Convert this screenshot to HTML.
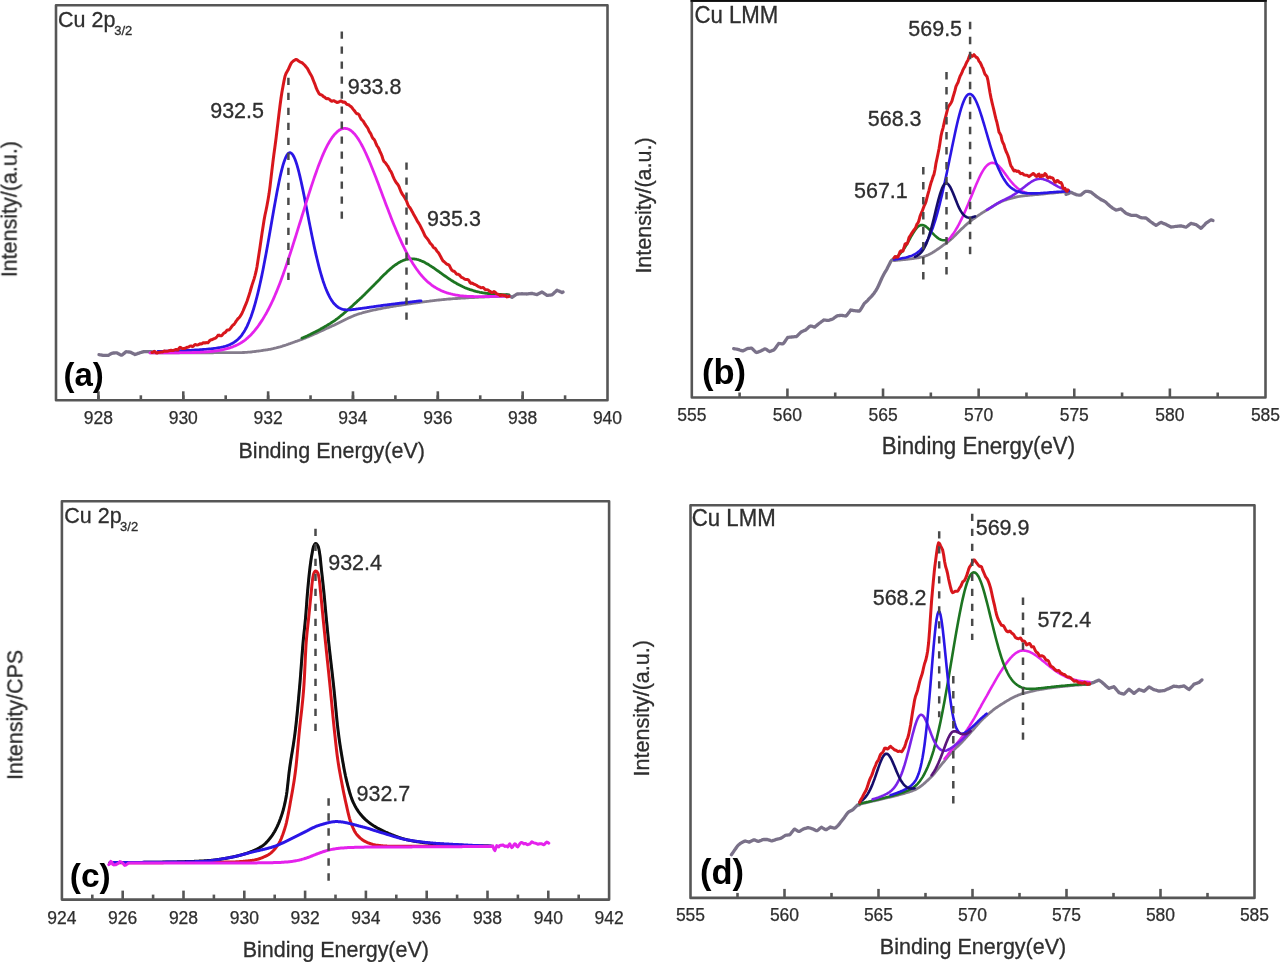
<!DOCTYPE html>
<html><head><meta charset="utf-8"><style>
html,body{margin:0;padding:0;background:#fff;}
svg{display:block;font-family:"Liberation Sans", sans-serif;}
</style></head><body>
<svg width="1280" height="962" viewBox="0 0 1280 962">
<defs><filter id="bl" x="0" y="0" width="100%" height="100%"><feGaussianBlur stdDeviation="0.6"/></filter></defs>
<rect width="1280" height="962" fill="#fff"/>
<g filter="url(#bl)">
<rect x="56" y="5.3" width="551.50" height="395.00" fill="none" stroke="#575757" stroke-width="2.6" stroke-linejoin="round"/>
<line x1="98.42" y1="400.3" x2="98.42" y2="391.30" stroke="#575757" stroke-width="2.6"/>
<line x1="183.27" y1="400.3" x2="183.27" y2="391.30" stroke="#575757" stroke-width="2.6"/>
<line x1="268.12" y1="400.3" x2="268.12" y2="391.30" stroke="#575757" stroke-width="2.6"/>
<line x1="352.96" y1="400.3" x2="352.96" y2="391.30" stroke="#575757" stroke-width="2.6"/>
<line x1="437.81" y1="400.3" x2="437.81" y2="391.30" stroke="#575757" stroke-width="2.6"/>
<line x1="522.65" y1="400.3" x2="522.65" y2="391.30" stroke="#575757" stroke-width="2.6"/>
<line x1="98.42" y1="400.3" x2="98.42" y2="395.30" stroke="#575757" stroke-width="2.6"/>
<line x1="140.85" y1="400.3" x2="140.85" y2="395.30" stroke="#575757" stroke-width="2.6"/>
<line x1="183.27" y1="400.3" x2="183.27" y2="395.30" stroke="#575757" stroke-width="2.6"/>
<line x1="225.69" y1="400.3" x2="225.69" y2="395.30" stroke="#575757" stroke-width="2.6"/>
<line x1="268.12" y1="400.3" x2="268.12" y2="395.30" stroke="#575757" stroke-width="2.6"/>
<line x1="310.54" y1="400.3" x2="310.54" y2="395.30" stroke="#575757" stroke-width="2.6"/>
<line x1="352.96" y1="400.3" x2="352.96" y2="395.30" stroke="#575757" stroke-width="2.6"/>
<line x1="395.38" y1="400.3" x2="395.38" y2="395.30" stroke="#575757" stroke-width="2.6"/>
<line x1="437.81" y1="400.3" x2="437.81" y2="395.30" stroke="#575757" stroke-width="2.6"/>
<line x1="480.23" y1="400.3" x2="480.23" y2="395.30" stroke="#575757" stroke-width="2.6"/>
<line x1="522.65" y1="400.3" x2="522.65" y2="395.30" stroke="#575757" stroke-width="2.6"/>
<line x1="565.08" y1="400.3" x2="565.08" y2="395.30" stroke="#575757" stroke-width="2.6"/>
<text x="98.42" y="424" font-size="17.5" stroke="#2e2e2e" stroke-width="0.25" text-anchor="middle" fill="#2e2e2e">928</text>
<text x="183.27" y="424" font-size="17.5" stroke="#2e2e2e" stroke-width="0.25" text-anchor="middle" fill="#2e2e2e">930</text>
<text x="268.12" y="424" font-size="17.5" stroke="#2e2e2e" stroke-width="0.25" text-anchor="middle" fill="#2e2e2e">932</text>
<text x="352.96" y="424" font-size="17.5" stroke="#2e2e2e" stroke-width="0.25" text-anchor="middle" fill="#2e2e2e">934</text>
<text x="437.81" y="424" font-size="17.5" stroke="#2e2e2e" stroke-width="0.25" text-anchor="middle" fill="#2e2e2e">936</text>
<text x="522.65" y="424" font-size="17.5" stroke="#2e2e2e" stroke-width="0.25" text-anchor="middle" fill="#2e2e2e">938</text>
<text x="607.50" y="424" font-size="17.5" stroke="#2e2e2e" stroke-width="0.25" text-anchor="middle" fill="#2e2e2e">940</text>
<rect x="691.8" y="0.8" width="573.70" height="396.70" fill="none" stroke="#575757" stroke-width="2.6" stroke-linejoin="round"/>
<line x1="787.42" y1="397.5" x2="787.42" y2="388.50" stroke="#575757" stroke-width="2.6"/>
<line x1="883.03" y1="397.5" x2="883.03" y2="388.50" stroke="#575757" stroke-width="2.6"/>
<line x1="978.65" y1="397.5" x2="978.65" y2="388.50" stroke="#575757" stroke-width="2.6"/>
<line x1="1074.27" y1="397.5" x2="1074.27" y2="388.50" stroke="#575757" stroke-width="2.6"/>
<line x1="1169.88" y1="397.5" x2="1169.88" y2="388.50" stroke="#575757" stroke-width="2.6"/>
<line x1="739.61" y1="397.5" x2="739.61" y2="392.50" stroke="#575757" stroke-width="2.6"/>
<line x1="835.22" y1="397.5" x2="835.22" y2="392.50" stroke="#575757" stroke-width="2.6"/>
<line x1="930.84" y1="397.5" x2="930.84" y2="392.50" stroke="#575757" stroke-width="2.6"/>
<line x1="1026.46" y1="397.5" x2="1026.46" y2="392.50" stroke="#575757" stroke-width="2.6"/>
<line x1="1122.08" y1="397.5" x2="1122.08" y2="392.50" stroke="#575757" stroke-width="2.6"/>
<line x1="1217.69" y1="397.5" x2="1217.69" y2="392.50" stroke="#575757" stroke-width="2.6"/>
<text x="691.80" y="421" font-size="17.5" stroke="#2e2e2e" stroke-width="0.25" text-anchor="middle" fill="#2e2e2e">555</text>
<text x="787.42" y="421" font-size="17.5" stroke="#2e2e2e" stroke-width="0.25" text-anchor="middle" fill="#2e2e2e">560</text>
<text x="883.03" y="421" font-size="17.5" stroke="#2e2e2e" stroke-width="0.25" text-anchor="middle" fill="#2e2e2e">565</text>
<text x="978.65" y="421" font-size="17.5" stroke="#2e2e2e" stroke-width="0.25" text-anchor="middle" fill="#2e2e2e">570</text>
<text x="1074.27" y="421" font-size="17.5" stroke="#2e2e2e" stroke-width="0.25" text-anchor="middle" fill="#2e2e2e">575</text>
<text x="1169.88" y="421" font-size="17.5" stroke="#2e2e2e" stroke-width="0.25" text-anchor="middle" fill="#2e2e2e">580</text>
<text x="1265.50" y="421" font-size="17.5" stroke="#2e2e2e" stroke-width="0.25" text-anchor="middle" fill="#2e2e2e">585</text>
<rect x="61.9" y="501.2" width="547.20" height="398.40" fill="none" stroke="#575757" stroke-width="2.6" stroke-linejoin="round"/>
<line x1="122.70" y1="899.6" x2="122.70" y2="890.60" stroke="#575757" stroke-width="2.6"/>
<line x1="183.50" y1="899.6" x2="183.50" y2="890.60" stroke="#575757" stroke-width="2.6"/>
<line x1="244.30" y1="899.6" x2="244.30" y2="890.60" stroke="#575757" stroke-width="2.6"/>
<line x1="305.10" y1="899.6" x2="305.10" y2="890.60" stroke="#575757" stroke-width="2.6"/>
<line x1="365.90" y1="899.6" x2="365.90" y2="890.60" stroke="#575757" stroke-width="2.6"/>
<line x1="426.70" y1="899.6" x2="426.70" y2="890.60" stroke="#575757" stroke-width="2.6"/>
<line x1="487.50" y1="899.6" x2="487.50" y2="890.60" stroke="#575757" stroke-width="2.6"/>
<line x1="548.30" y1="899.6" x2="548.30" y2="890.60" stroke="#575757" stroke-width="2.6"/>
<line x1="92.30" y1="899.6" x2="92.30" y2="894.60" stroke="#575757" stroke-width="2.6"/>
<line x1="153.10" y1="899.6" x2="153.10" y2="894.60" stroke="#575757" stroke-width="2.6"/>
<line x1="213.90" y1="899.6" x2="213.90" y2="894.60" stroke="#575757" stroke-width="2.6"/>
<line x1="274.70" y1="899.6" x2="274.70" y2="894.60" stroke="#575757" stroke-width="2.6"/>
<line x1="335.50" y1="899.6" x2="335.50" y2="894.60" stroke="#575757" stroke-width="2.6"/>
<line x1="396.30" y1="899.6" x2="396.30" y2="894.60" stroke="#575757" stroke-width="2.6"/>
<line x1="457.10" y1="899.6" x2="457.10" y2="894.60" stroke="#575757" stroke-width="2.6"/>
<line x1="517.90" y1="899.6" x2="517.90" y2="894.60" stroke="#575757" stroke-width="2.6"/>
<line x1="578.70" y1="899.6" x2="578.70" y2="894.60" stroke="#575757" stroke-width="2.6"/>
<text x="61.90" y="923.5" font-size="17.5" stroke="#2e2e2e" stroke-width="0.25" text-anchor="middle" fill="#2e2e2e">924</text>
<text x="122.70" y="923.5" font-size="17.5" stroke="#2e2e2e" stroke-width="0.25" text-anchor="middle" fill="#2e2e2e">926</text>
<text x="183.50" y="923.5" font-size="17.5" stroke="#2e2e2e" stroke-width="0.25" text-anchor="middle" fill="#2e2e2e">928</text>
<text x="244.30" y="923.5" font-size="17.5" stroke="#2e2e2e" stroke-width="0.25" text-anchor="middle" fill="#2e2e2e">930</text>
<text x="305.10" y="923.5" font-size="17.5" stroke="#2e2e2e" stroke-width="0.25" text-anchor="middle" fill="#2e2e2e">932</text>
<text x="365.90" y="923.5" font-size="17.5" stroke="#2e2e2e" stroke-width="0.25" text-anchor="middle" fill="#2e2e2e">934</text>
<text x="426.70" y="923.5" font-size="17.5" stroke="#2e2e2e" stroke-width="0.25" text-anchor="middle" fill="#2e2e2e">936</text>
<text x="487.50" y="923.5" font-size="17.5" stroke="#2e2e2e" stroke-width="0.25" text-anchor="middle" fill="#2e2e2e">938</text>
<text x="548.30" y="923.5" font-size="17.5" stroke="#2e2e2e" stroke-width="0.25" text-anchor="middle" fill="#2e2e2e">940</text>
<text x="609.10" y="923.5" font-size="17.5" stroke="#2e2e2e" stroke-width="0.25" text-anchor="middle" fill="#2e2e2e">942</text>
<rect x="690.5" y="505.3" width="564.00" height="392.60" fill="none" stroke="#575757" stroke-width="2.6" stroke-linejoin="round"/>
<line x1="784.50" y1="897.9" x2="784.50" y2="888.90" stroke="#575757" stroke-width="2.6"/>
<line x1="878.50" y1="897.9" x2="878.50" y2="888.90" stroke="#575757" stroke-width="2.6"/>
<line x1="972.50" y1="897.9" x2="972.50" y2="888.90" stroke="#575757" stroke-width="2.6"/>
<line x1="1066.50" y1="897.9" x2="1066.50" y2="888.90" stroke="#575757" stroke-width="2.6"/>
<line x1="1160.50" y1="897.9" x2="1160.50" y2="888.90" stroke="#575757" stroke-width="2.6"/>
<line x1="737.50" y1="897.9" x2="737.50" y2="892.90" stroke="#575757" stroke-width="2.6"/>
<line x1="831.50" y1="897.9" x2="831.50" y2="892.90" stroke="#575757" stroke-width="2.6"/>
<line x1="925.50" y1="897.9" x2="925.50" y2="892.90" stroke="#575757" stroke-width="2.6"/>
<line x1="1019.50" y1="897.9" x2="1019.50" y2="892.90" stroke="#575757" stroke-width="2.6"/>
<line x1="1113.50" y1="897.9" x2="1113.50" y2="892.90" stroke="#575757" stroke-width="2.6"/>
<line x1="1207.50" y1="897.9" x2="1207.50" y2="892.90" stroke="#575757" stroke-width="2.6"/>
<text x="690.50" y="921" font-size="17.5" stroke="#2e2e2e" stroke-width="0.25" text-anchor="middle" fill="#2e2e2e">555</text>
<text x="784.50" y="921" font-size="17.5" stroke="#2e2e2e" stroke-width="0.25" text-anchor="middle" fill="#2e2e2e">560</text>
<text x="878.50" y="921" font-size="17.5" stroke="#2e2e2e" stroke-width="0.25" text-anchor="middle" fill="#2e2e2e">565</text>
<text x="972.50" y="921" font-size="17.5" stroke="#2e2e2e" stroke-width="0.25" text-anchor="middle" fill="#2e2e2e">570</text>
<text x="1066.50" y="921" font-size="17.5" stroke="#2e2e2e" stroke-width="0.25" text-anchor="middle" fill="#2e2e2e">575</text>
<text x="1160.50" y="921" font-size="17.5" stroke="#2e2e2e" stroke-width="0.25" text-anchor="middle" fill="#2e2e2e">580</text>
<text x="1254.50" y="921" font-size="17.5" stroke="#2e2e2e" stroke-width="0.25" text-anchor="middle" fill="#2e2e2e">585</text>
<line x1="690.5" y1="0.8" x2="1266.8" y2="0.8" stroke="#0c0c0c" stroke-width="2.0"/>
<text x="0" y="0" font-size="21.5" text-anchor="start" fill="#2e2e2e" stroke="#2e2e2e" stroke-width="0.3" font-weight="normal" transform="translate(58.0,27.2) scale(1,1.05)" >Cu 2p</text>
<text x="0" y="0" font-size="13" text-anchor="start" fill="#2e2e2e" stroke="#2e2e2e" stroke-width="0.3" font-weight="normal" transform="translate(114.2,34.6) scale(1,1.05)" >3/2</text>
<text x="0" y="0" font-size="22.2" text-anchor="start" fill="#2e2e2e" stroke="#2e2e2e" stroke-width="0.3" font-weight="normal" transform="translate(694.5,23.0) scale(1,1.05)" >Cu LMM</text>
<text x="0" y="0" font-size="21.5" text-anchor="start" fill="#2e2e2e" stroke="#2e2e2e" stroke-width="0.3" font-weight="normal" transform="translate(64.3,523.1) scale(1,1.05)" >Cu 2p</text>
<text x="0" y="0" font-size="13" text-anchor="start" fill="#2e2e2e" stroke="#2e2e2e" stroke-width="0.3" font-weight="normal" transform="translate(120.1,531.0) scale(1,1.05)" >3/2</text>
<text x="0" y="0" font-size="22.2" text-anchor="start" fill="#2e2e2e" stroke="#2e2e2e" stroke-width="0.3" font-weight="normal" transform="translate(691.8,525.9) scale(1,1.05)" >Cu LMM</text>
<text x="0" y="0" font-size="21.5" text-anchor="middle" fill="#2e2e2e" stroke="#2e2e2e" stroke-width="0.3" font-weight="normal" transform="translate(331.7,457.5) scale(1,1.05)" >Binding Energy(eV)</text>
<text x="0" y="0" font-size="22.3" text-anchor="middle" fill="#2e2e2e" stroke="#2e2e2e" stroke-width="0.3" font-weight="normal" transform="translate(978.5,454.4) scale(1,1.05)" >Binding Energy(eV)</text>
<text x="0" y="0" font-size="21.5" text-anchor="middle" fill="#2e2e2e" stroke="#2e2e2e" stroke-width="0.3" font-weight="normal" transform="translate(335.8,957.2) scale(1,1.05)" >Binding Energy(eV)</text>
<text x="0" y="0" font-size="21.5" text-anchor="middle" fill="#2e2e2e" stroke="#2e2e2e" stroke-width="0.3" font-weight="normal" transform="translate(973.0,954.4) scale(1,1.05)" >Binding Energy(eV)</text>
<text x="0" y="0" font-size="21.5" text-anchor="middle" fill="#2e2e2e" stroke="#2e2e2e" stroke-width="0.3" transform="translate(16.6,209.2) rotate(-90)">Intensity/(a.u.)</text>
<text x="0" y="0" font-size="21.5" text-anchor="middle" fill="#2e2e2e" stroke="#2e2e2e" stroke-width="0.3" transform="translate(651.2,205.5) rotate(-90)">Intensity/(a.u.)</text>
<text x="0" y="0" font-size="21.5" text-anchor="middle" fill="#2e2e2e" stroke="#2e2e2e" stroke-width="0.3" transform="translate(22.4,714.9) rotate(-90)">Intensity/CPS</text>
<text x="0" y="0" font-size="21.5" text-anchor="middle" fill="#2e2e2e" stroke="#2e2e2e" stroke-width="0.3" transform="translate(649.0,708.3) rotate(-90)">Intensity/(a.u.)</text>
<text x="0" y="0" font-size="33" font-weight="bold" fill="#000" transform="translate(63.5,386.2) ">(a)</text>
<text x="0" y="0" font-size="34.5" font-weight="bold" fill="#000" transform="translate(702.0,383.6) ">(b)</text>
<text x="0" y="0" font-size="33.5" font-weight="bold" fill="#000" transform="translate(69.8,886.5) ">(c)</text>
<text x="0" y="0" font-size="34.5" font-weight="bold" fill="#000" transform="translate(700.0,883.6) ">(d)</text>
<text x="0" y="0" font-size="21.5" text-anchor="start" fill="#2e2e2e" stroke="#2e2e2e" stroke-width="0.3" font-weight="normal" transform="translate(210.2,118.4) scale(1,1.05)" >932.5</text>
<text x="0" y="0" font-size="21.5" text-anchor="start" fill="#2e2e2e" stroke="#2e2e2e" stroke-width="0.3" font-weight="normal" transform="translate(347.7,93.5) scale(1,1.05)" >933.8</text>
<text x="0" y="0" font-size="21.5" text-anchor="start" fill="#2e2e2e" stroke="#2e2e2e" stroke-width="0.3" font-weight="normal" transform="translate(427.1,226) scale(1,1.05)" >935.3</text>
<text x="0" y="0" font-size="21.5" text-anchor="start" fill="#2e2e2e" stroke="#2e2e2e" stroke-width="0.3" font-weight="normal" transform="translate(908.3,35.8) scale(1,1.05)" >569.5</text>
<text x="0" y="0" font-size="21.5" text-anchor="start" fill="#2e2e2e" stroke="#2e2e2e" stroke-width="0.3" font-weight="normal" transform="translate(867.75,126.25) scale(1,1.05)" >568.3</text>
<text x="0" y="0" font-size="21.5" text-anchor="start" fill="#2e2e2e" stroke="#2e2e2e" stroke-width="0.3" font-weight="normal" transform="translate(854.0,197.5) scale(1,1.05)" >567.1</text>
<text x="0" y="0" font-size="21.5" text-anchor="start" fill="#2e2e2e" stroke="#2e2e2e" stroke-width="0.3" font-weight="normal" transform="translate(328.2,569.9) scale(1,1.05)" >932.4</text>
<text x="0" y="0" font-size="21.5" text-anchor="start" fill="#2e2e2e" stroke="#2e2e2e" stroke-width="0.3" font-weight="normal" transform="translate(356.5,800.5) scale(1,1.05)" >932.7</text>
<text x="0" y="0" font-size="21.5" text-anchor="start" fill="#2e2e2e" stroke="#2e2e2e" stroke-width="0.3" font-weight="normal" transform="translate(975.7,535) scale(1,1.05)" >569.9</text>
<text x="0" y="0" font-size="21.5" text-anchor="start" fill="#2e2e2e" stroke="#2e2e2e" stroke-width="0.3" font-weight="normal" transform="translate(872.7,604.8) scale(1,1.05)" >568.2</text>
<text x="0" y="0" font-size="21.5" text-anchor="start" fill="#2e2e2e" stroke="#2e2e2e" stroke-width="0.3" font-weight="normal" transform="translate(1037.4,627.2) scale(1,1.05)" >572.4</text>
<path d="M99.0 354.7L100.0 354.8L101.0 355.0L102.0 355.1L103.0 355.3L104.0 355.4L105.0 355.4L106.0 355.4L107.0 355.4L108.0 355.4L109.0 354.9L110.0 354.3L111.0 353.8L112.0 353.3L113.0 353.0L114.0 353.0L115.0 352.9L116.0 352.9L117.0 352.9L118.0 353.5L119.0 354.0L120.0 354.6L121.0 355.2L122.0 355.1L123.0 354.2L124.0 353.4L125.0 352.6L126.0 351.7L127.0 351.8L128.0 351.9L129.0 352.0L130.0 352.1L131.0 352.4L132.0 352.9L133.0 353.4L134.0 353.9L135.0 354.5L136.0 354.1L137.0 353.8L138.0 353.4L139.0 353.1L140.0 352.7L141.0 352.5L142.0 352.2L143.0 351.9L144.0 351.6L145.0 351.7L146.0 351.7L147.0 351.7L148.0 351.7L149.0 351.7L150.0 351.7L151.0 351.7L152.0 351.8L153.0 351.8L154.0 351.5" fill="none" stroke="#7a7189" stroke-width="3.3" stroke-linejoin="round" stroke-linecap="round" opacity="1"/>
<path d="M507.0 294.8L508.0 295.3L509.0 295.8L510.0 296.3L511.0 296.8L512.0 297.3L513.0 296.6L514.0 296.0L515.0 295.3L516.0 294.7L517.0 294.0L518.0 294.0L519.0 293.9L520.0 293.8L521.0 293.8L522.0 293.7L523.0 293.8L524.0 293.8L525.0 293.9L526.0 293.9L527.0 294.0L528.0 293.8L529.0 293.7L530.0 293.6L531.0 293.5L532.0 293.4L533.0 293.7L534.0 293.9L535.0 294.2L536.0 294.4L537.0 294.7L538.0 294.1L539.0 293.6L540.0 293.1L541.0 292.5L542.0 292.0L543.0 292.7L544.0 293.4L545.0 294.0L546.0 294.7L547.0 295.4L548.0 295.3L549.0 295.2L550.0 295.1L551.0 295.0L552.0 294.8L553.0 293.9L554.0 293.0L555.0 292.1L556.0 291.2L557.0 290.2L558.0 290.7L559.0 291.1L560.0 291.6L561.0 292.0L562.0 292.5L563.0 292.0" fill="none" stroke="#7a7189" stroke-width="3.3" stroke-linejoin="round" stroke-linecap="round" opacity="1"/>
<path d="M150.0 352.9L151.0 352.9L152.0 352.9L153.0 352.9L154.0 352.9L155.0 352.9L156.0 352.9L157.0 352.9L158.0 352.9L159.0 352.9L160.0 352.9L161.0 352.9L162.0 352.9L163.0 352.9L164.0 352.9L165.0 352.9L166.0 352.9L167.0 352.9L168.0 352.9L169.0 352.9L170.0 352.9L171.0 352.9L172.0 352.8L173.0 352.8L174.0 352.8L175.0 352.8L176.0 352.8L177.0 352.8L178.0 352.8L179.0 352.8L180.0 352.8L181.0 352.8L182.0 352.8L183.0 352.8L184.0 352.8L185.0 352.8L186.0 352.8L187.0 352.8L188.0 352.8L189.0 352.8L190.0 352.8L191.0 352.8L192.0 352.8L193.0 352.8L194.0 352.8L195.0 352.8L196.0 352.8L197.0 352.8L198.0 352.8L199.0 352.8L200.0 352.8L201.0 352.8L202.0 352.8L203.0 352.8L204.0 352.8L205.0 352.8L206.0 352.8L207.0 352.8L208.0 352.8L209.0 352.8L210.0 352.8L211.0 352.8L212.0 352.8L213.0 352.8L214.0 352.7L215.0 352.7L216.0 352.7L217.0 352.7L218.0 352.7L219.0 352.7L220.0 352.7L221.0 352.7L222.0 352.7L223.0 352.7L224.0 352.7L225.0 352.7L226.0 352.7L227.0 352.7L228.0 352.7L229.0 352.7L230.0 352.7L231.0 352.7L232.0 352.7L233.0 352.7L234.0 352.6L235.0 352.6L236.0 352.6L237.0 352.6L238.0 352.6L239.0 352.6L240.0 352.6L241.0 352.6L242.0 352.6L243.0 352.5L244.0 352.5L245.0 352.4L246.0 352.4L247.0 352.3L248.0 352.2L249.0 352.1L250.0 352.1L251.0 352.0L252.0 351.9L253.0 351.7L254.0 351.6L255.0 351.5L256.0 351.4L257.0 351.2L258.0 351.1L259.0 351.0L260.0 350.8L261.0 350.7L262.0 350.5L263.0 350.4L264.0 350.2L265.0 350.1L266.0 349.9L267.0 349.8L268.0 349.6L269.0 349.4L270.0 349.3L271.0 349.1L272.0 348.9L273.0 348.7L274.0 348.4L275.0 348.2L276.0 348.0L277.0 347.7L278.0 347.4L279.0 347.1L280.0 346.9L281.0 346.6L282.0 346.3L283.0 345.9L284.0 345.6L285.0 345.3L286.0 345.0L287.0 344.6L288.0 344.3L289.0 343.9L290.0 343.6L291.0 343.2L292.0 342.9L293.0 342.5L294.0 342.2L295.0 341.8L296.0 341.4L297.0 341.1L298.0 340.7L299.0 340.4L300.0 340.0L301.0 339.6L302.0 339.3L303.0 338.9L304.0 338.5L305.0 338.1L306.0 337.7L307.0 337.3L308.0 336.9L309.0 336.4L310.0 336.0L311.0 335.6L312.0 335.1L313.0 334.7L314.0 334.3L315.0 333.8L316.0 333.4L317.0 332.9L318.0 332.4L319.0 332.0L320.0 331.5L321.0 331.1L322.0 330.6L323.0 330.2L324.0 329.7L325.0 329.2L326.0 328.8L327.0 328.3L328.0 327.9L329.0 327.4L330.0 327.0L331.0 326.6L332.0 326.1L333.0 325.6L334.0 325.2L335.0 324.7L336.0 324.2L337.0 323.7L338.0 323.2L339.0 322.7L340.0 322.2L341.0 321.7L342.0 321.2L343.0 320.7L344.0 320.2L345.0 319.7L346.0 319.2L347.0 318.8L348.0 318.3L349.0 317.8L350.0 317.4L351.0 316.9L352.0 316.5L353.0 316.1L354.0 315.6L355.0 315.2L356.0 314.9L357.0 314.5L358.0 314.2L359.0 313.8L360.0 313.5L361.0 313.3L362.0 313.0L363.0 312.7L364.0 312.4L365.0 312.2L366.0 311.9L367.0 311.7L368.0 311.4L369.0 311.2L370.0 310.9L371.0 310.7L372.0 310.5L373.0 310.2L374.0 310.0L375.0 309.8L376.0 309.6L377.0 309.4L378.0 309.2L379.0 309.0L380.0 308.8L381.0 308.6L382.0 308.4L383.0 308.2L384.0 308.0L385.0 307.8L386.0 307.6L387.0 307.4L388.0 307.3L389.0 307.1L390.0 306.9L391.0 306.7L392.0 306.6L393.0 306.4L394.0 306.2L395.0 306.1L396.0 305.9L397.0 305.7L398.0 305.6L399.0 305.4L400.0 305.3L401.0 305.1L402.0 305.0L403.0 304.8L404.0 304.7L405.0 304.5L406.0 304.4L407.0 304.2L408.0 304.1L409.0 303.9L410.0 303.8L411.0 303.6L412.0 303.5L413.0 303.3L414.0 303.2L415.0 303.1L416.0 302.9L417.0 302.8L418.0 302.6L419.0 302.5L420.0 302.4L421.0 302.2L422.0 302.1L423.0 301.9L424.0 301.8L425.0 301.7L426.0 301.6L427.0 301.4L428.0 301.3L429.0 301.2L430.0 301.0L431.0 300.9L432.0 300.8L433.0 300.7L434.0 300.6L435.0 300.4L436.0 300.3L437.0 300.2L438.0 300.1L439.0 300.0L440.0 299.9L441.0 299.8L442.0 299.7L443.0 299.6L444.0 299.5L445.0 299.4L446.0 299.3L447.0 299.2L448.0 299.1L449.0 299.0L450.0 299.0L451.0 298.9L452.0 298.8L453.0 298.7L454.0 298.7L455.0 298.6L456.0 298.5L457.0 298.5L458.0 298.4L459.0 298.3L460.0 298.3L461.0 298.2L462.0 298.2L463.0 298.1L464.0 298.0L465.0 298.0L466.0 297.9L467.0 297.9L468.0 297.8L469.0 297.7L470.0 297.7L471.0 297.6L472.0 297.6L473.0 297.5L474.0 297.5L475.0 297.4L476.0 297.4L477.0 297.3L478.0 297.3L479.0 297.2L480.0 297.2L481.0 297.1L482.0 297.1L483.0 297.0L484.0 297.0L485.0 296.9L486.0 296.9L487.0 296.8L488.0 296.8L489.0 296.8L490.0 296.7L491.0 296.7L492.0 296.6L493.0 296.6L494.0 296.6L495.0 296.5L496.0 296.5L497.0 296.5L498.0 296.4L499.0 296.4L500.0 296.4L501.0 296.4L502.0 296.3L503.0 296.3L504.0 296.3L505.0 296.3L506.0 296.2L507.0 296.2L508.0 296.2L509.0 296.2" fill="none" stroke="#847c8c" stroke-width="2.8" stroke-linejoin="round" stroke-linecap="round" opacity="1"/>
<path d="M302.0 338.1L303.0 337.7L304.0 337.3L305.0 336.9L306.0 336.4L307.0 336.0L308.0 335.5L309.0 335.0L310.0 334.6L311.0 334.1L312.0 333.6L313.0 333.1L314.0 332.6L315.0 332.1L316.0 331.5L317.0 331.0L318.0 330.5L319.0 329.9L320.0 329.4L321.0 328.8L322.0 328.3L323.0 327.7L324.0 327.1L325.0 326.5L326.0 326.0L327.0 325.4L328.0 324.8L329.0 324.2L330.0 323.6L331.0 322.9L332.0 322.3L333.0 321.6L334.0 321.0L335.0 320.3L336.0 319.5L337.0 318.8L338.0 318.1L339.0 317.3L340.0 316.5L341.0 315.7L342.0 314.9L343.0 314.1L344.0 313.2L345.0 312.4L346.0 311.5L347.0 310.7L348.0 309.8L349.0 308.9L350.0 308.0L351.0 307.1L352.0 306.2L353.0 305.3L354.0 304.3L355.0 303.4L356.0 302.5L357.0 301.6L358.0 300.6L359.0 299.7L360.0 298.8L361.0 297.9L362.0 296.9L363.0 296.0L364.0 295.0L365.0 294.1L366.0 293.1L367.0 292.1L368.0 291.1L369.0 290.1L370.0 289.1L371.0 288.1L372.0 287.1L373.0 286.1L374.0 285.0L375.0 284.0L376.0 283.0L377.0 281.9L378.0 280.9L379.0 279.9L380.0 278.9L381.0 277.8L382.0 276.8L383.0 275.8L384.0 274.8L385.0 273.9L386.0 272.9L387.0 271.9L388.0 271.0L389.0 270.1L390.0 269.2L391.0 268.4L392.0 267.5L393.0 266.7L394.0 265.9L395.0 265.2L396.0 264.5L397.0 263.8L398.0 263.1L399.0 262.5L400.0 262.0L401.0 261.4L402.0 261.0L403.0 260.5L404.0 260.2L405.0 259.8L406.0 259.5L407.0 259.3L408.0 259.1L409.0 258.9L410.0 258.8L411.0 258.8L412.0 258.8L413.0 258.8L414.0 258.9L415.0 259.1L416.0 259.2L417.0 259.5L418.0 259.7L419.0 260.0L420.0 260.4L421.0 260.8L422.0 261.2L423.0 261.6L424.0 262.1L425.0 262.6L426.0 263.2L427.0 263.7L428.0 264.3L429.0 264.9L430.0 265.6L431.0 266.2L432.0 266.9L433.0 267.5L434.0 268.2L435.0 268.9L436.0 269.6L437.0 270.3L438.0 271.0L439.0 271.7L440.0 272.5L441.0 273.2L442.0 273.9L443.0 274.6L444.0 275.3L445.0 276.0L446.0 276.7L447.0 277.4L448.0 278.1L449.0 278.8L450.0 279.4L451.0 280.1L452.0 280.7L453.0 281.3L454.0 282.0L455.0 282.6L456.0 283.1L457.0 283.7L458.0 284.3L459.0 284.8L460.0 285.3L461.0 285.8L462.0 286.3L463.0 286.8L464.0 287.2L465.0 287.7L466.0 288.1L467.0 288.5L468.0 288.9L469.0 289.2L470.0 289.6L471.0 289.9L472.0 290.2L473.0 290.5L474.0 290.8L475.0 291.1L476.0 291.4L477.0 291.6L478.0 291.8L479.0 292.0L480.0 292.3L481.0 292.5L482.0 292.6L483.0 292.8L484.0 293.0L485.0 293.1L486.0 293.3L487.0 293.4L488.0 293.5L489.0 293.6L490.0 293.7L491.0 293.8L492.0 293.9L493.0 294.0L494.0 294.1L495.0 294.2L496.0 294.2L497.0 294.3L498.0 294.4L499.0 294.4L500.0 294.5L501.0 294.5L502.0 294.6L503.0 294.6L504.0 294.7L505.0 294.7L506.0 294.7L507.0 294.8L508.0 294.8L509.0 294.8" fill="none" stroke="#1f7420" stroke-width="2.8" stroke-linejoin="round" stroke-linecap="round" opacity="1"/>
<path d="M158.0 351.4L159.0 351.4L160.0 351.4L161.0 351.3L162.0 351.3L163.0 351.3L164.0 351.3L165.0 351.2L166.0 351.2L167.0 351.2L168.0 351.1L169.0 351.1L170.0 351.1L171.0 351.1L172.0 351.0L173.0 351.0L174.0 351.0L175.0 350.9L176.0 350.9L177.0 350.9L178.0 350.8L179.0 350.8L180.0 350.7L181.0 350.7L182.0 350.7L183.0 350.6L184.0 350.6L185.0 350.5L186.0 350.5L187.0 350.4L188.0 350.4L189.0 350.4L190.0 350.3L191.0 350.3L192.0 350.2L193.0 350.1L194.0 350.1L195.0 350.0L196.0 350.0L197.0 349.9L198.0 349.9L199.0 349.8L200.0 349.7L201.0 349.6L202.0 349.6L203.0 349.5L204.0 349.4L205.0 349.3L206.0 349.3L207.0 349.2L208.0 349.1L209.0 349.0L210.0 348.9L211.0 348.8L212.0 348.7L213.0 348.6L214.0 348.4L215.0 348.3L216.0 348.2L217.0 348.0L218.0 347.9L219.0 347.7L220.0 347.5L221.0 347.3L222.0 347.1L223.0 346.9L224.0 346.6L225.0 346.4L226.0 346.1L227.0 345.7L228.0 345.4L229.0 345.0L230.0 344.6L231.0 344.1L232.0 343.6L233.0 343.0L234.0 342.4L235.0 341.7L236.0 341.0L237.0 340.2L238.0 339.3L239.0 338.3L240.0 337.2L241.0 336.1L242.0 334.8L243.0 333.3L244.0 331.8L245.0 330.1L246.0 328.3L247.0 326.3L248.0 324.1L249.0 321.8L250.0 319.3L251.0 316.7L252.0 313.8L253.0 310.8L254.0 307.5L255.0 304.1L256.0 300.4L257.0 296.6L258.0 292.6L259.0 288.4L260.0 284.0L261.0 279.4L262.0 274.6L263.0 269.7L264.0 264.6L265.0 259.3L266.0 253.9L267.0 248.4L268.0 242.9L269.0 237.2L270.0 231.5L271.0 225.7L272.0 220.0L273.0 214.2L274.0 208.5L275.0 202.9L276.0 197.4L277.0 192.0L278.0 186.9L279.0 181.9L280.0 177.2L281.0 172.9L282.0 168.8L283.0 165.2L284.0 162.0L285.0 159.2L286.0 156.9L287.0 155.0L288.0 153.7L289.0 153.0L290.0 152.7L291.0 153.0L292.0 153.8L293.0 155.2L294.0 157.0L295.0 159.3L296.0 162.0L297.0 165.1L298.0 168.6L299.0 172.5L300.0 176.6L301.0 181.0L302.0 185.6L303.0 190.4L304.0 195.3L305.0 200.4L306.0 205.5L307.0 210.6L308.0 215.8L309.0 220.9L310.0 226.0L311.0 231.0L312.0 236.0L313.0 240.8L314.0 245.6L315.0 250.1L316.0 254.6L317.0 258.8L318.0 262.9L319.0 266.9L320.0 270.6L321.0 274.1L322.0 277.5L323.0 280.7L324.0 283.6L325.0 286.4L326.0 289.0L327.0 291.4L328.0 293.6L329.0 295.7L330.0 297.6L331.0 299.3L332.0 300.9L333.0 302.3L334.0 303.5L335.0 304.6L336.0 305.6L337.0 306.4L338.0 307.2L339.0 307.8L340.0 308.3L341.0 308.7L342.0 309.1L343.0 309.4L344.0 309.6L345.0 309.7L346.0 309.8L347.0 309.9L348.0 309.9L349.0 309.9L350.0 309.8L351.0 309.8L352.0 309.7L353.0 309.5L354.0 309.4L355.0 309.3L356.0 309.1L357.0 309.0L358.0 308.8L359.0 308.7L360.0 308.6L361.0 308.5L362.0 308.3L363.0 308.2L364.0 308.1L365.0 307.9L366.0 307.8L367.0 307.6L368.0 307.5L369.0 307.4L370.0 307.2L371.0 307.1L372.0 306.9L373.0 306.8L374.0 306.6L375.0 306.5L376.0 306.3L377.0 306.2L378.0 306.1L379.0 305.9L380.0 305.8L381.0 305.6L382.0 305.5L383.0 305.4L384.0 305.2L385.0 305.1L386.0 305.0L387.0 304.8L388.0 304.7L389.0 304.6L390.0 304.5L391.0 304.3L392.0 304.2L393.0 304.1L394.0 304.0L395.0 303.8L396.0 303.7L397.0 303.6L398.0 303.5L399.0 303.4L400.0 303.2L401.0 303.1L402.0 303.0L403.0 302.9L404.0 302.8L405.0 302.6L406.0 302.5L407.0 302.4L408.0 302.3L409.0 302.2L410.0 302.1L411.0 301.9L412.0 301.8L413.0 301.7L414.0 301.6L415.0 301.5L416.0 301.3L417.0 301.2L418.0 301.1L419.0 301.0L420.0 300.9L421.0 300.8" fill="none" stroke="#2a14e6" stroke-width="2.8" stroke-linejoin="round" stroke-linecap="round" opacity="1"/>
<path d="M150.0 352.9L151.0 352.9L152.0 352.9L153.0 352.9L154.0 352.9L155.0 352.9L156.0 352.9L157.0 352.9L158.0 352.9L159.0 352.9L160.0 352.9L161.0 352.9L162.0 352.9L163.0 352.9L164.0 352.8L165.0 352.8L166.0 352.8L167.0 352.8L168.0 352.8L169.0 352.8L170.0 352.8L171.0 352.8L172.0 352.8L173.0 352.8L174.0 352.8L175.0 352.8L176.0 352.8L177.0 352.8L178.0 352.8L179.0 352.8L180.0 352.7L181.0 352.7L182.0 352.7L183.0 352.7L184.0 352.7L185.0 352.7L186.0 352.7L187.0 352.7L188.0 352.6L189.0 352.6L190.0 352.6L191.0 352.6L192.0 352.6L193.0 352.5L194.0 352.5L195.0 352.5L196.0 352.4L197.0 352.4L198.0 352.4L199.0 352.3L200.0 352.3L201.0 352.2L202.0 352.2L203.0 352.1L204.0 352.1L205.0 352.0L206.0 351.9L207.0 351.9L208.0 351.8L209.0 351.7L210.0 351.6L211.0 351.5L212.0 351.4L213.0 351.3L214.0 351.2L215.0 351.1L216.0 350.9L217.0 350.8L218.0 350.6L219.0 350.5L220.0 350.3L221.0 350.1L222.0 349.9L223.0 349.7L224.0 349.5L225.0 349.2L226.0 349.0L227.0 348.7L228.0 348.4L229.0 348.1L230.0 347.8L231.0 347.4L232.0 347.1L233.0 346.7L234.0 346.3L235.0 345.9L236.0 345.4L237.0 345.0L238.0 344.5L239.0 343.9L240.0 343.4L241.0 342.8L242.0 342.2L243.0 341.5L244.0 340.8L245.0 340.1L246.0 339.3L247.0 338.4L248.0 337.6L249.0 336.6L250.0 335.7L251.0 334.7L252.0 333.6L253.0 332.5L254.0 331.4L255.0 330.2L256.0 328.9L257.0 327.6L258.0 326.3L259.0 324.9L260.0 323.4L261.0 321.9L262.0 320.4L263.0 318.8L264.0 317.1L265.0 315.4L266.0 313.7L267.0 311.9L268.0 310.0L269.0 308.1L270.0 306.1L271.0 304.1L272.0 302.0L273.0 299.8L274.0 297.6L275.0 295.3L276.0 292.9L277.0 290.5L278.0 288.0L279.0 285.5L280.0 282.9L281.0 280.2L282.0 277.5L283.0 274.8L284.0 271.9L285.0 269.1L286.0 266.2L287.0 263.3L288.0 260.3L289.0 257.3L290.0 254.2L291.0 251.1L292.0 248.0L293.0 244.9L294.0 241.7L295.0 238.5L296.0 235.3L297.0 232.1L298.0 228.9L299.0 225.7L300.0 222.5L301.0 219.3L302.0 216.0L303.0 212.8L304.0 209.6L305.0 206.3L306.0 203.1L307.0 199.9L308.0 196.8L309.0 193.6L310.0 190.5L311.0 187.4L312.0 184.4L313.0 181.4L314.0 178.4L315.0 175.5L316.0 172.7L317.0 169.9L318.0 167.1L319.0 164.5L320.0 161.9L321.0 159.4L322.0 156.9L323.0 154.6L324.0 152.3L325.0 150.2L326.0 148.1L327.0 146.1L328.0 144.2L329.0 142.5L330.0 140.8L331.0 139.2L332.0 137.7L333.0 136.4L334.0 135.1L335.0 133.9L336.0 132.9L337.0 131.9L338.0 131.1L339.0 130.3L340.0 129.7L341.0 129.2L342.0 128.8L343.0 128.6L344.0 128.4L345.0 128.4L346.0 128.5L347.0 128.7L348.0 129.0L349.0 129.4L350.0 130.0L351.0 130.7L352.0 131.5L353.0 132.4L354.0 133.4L355.0 134.5L356.0 135.8L357.0 137.2L358.0 138.6L359.0 140.2L360.0 141.9L361.0 143.6L362.0 145.5L363.0 147.4L364.0 149.4L365.0 151.5L366.0 153.6L367.0 155.8L368.0 158.1L369.0 160.4L370.0 162.8L371.0 165.2L372.0 167.7L373.0 170.2L374.0 172.7L375.0 175.2L376.0 177.8L377.0 180.4L378.0 183.1L379.0 185.7L380.0 188.4L381.0 191.0L382.0 193.7L383.0 196.4L384.0 199.0L385.0 201.7L386.0 204.4L387.0 207.0L388.0 209.6L389.0 212.2L390.0 214.8L391.0 217.4L392.0 219.9L393.0 222.4L394.0 224.9L395.0 227.3L396.0 229.7L397.0 232.1L398.0 234.4L399.0 236.7L400.0 238.9L401.0 241.1L402.0 243.3L403.0 245.4L404.0 247.4L405.0 249.5L406.0 251.4L407.0 253.3L408.0 255.2L409.0 257.0L410.0 258.8L411.0 260.5L412.0 262.1L413.0 263.8L414.0 265.3L415.0 266.8L416.0 268.3L417.0 269.7L418.0 271.0L419.0 272.3L420.0 273.6L421.0 274.8L422.0 276.0L423.0 277.1L424.0 278.2L425.0 279.2L426.0 280.2L427.0 281.2L428.0 282.1L429.0 282.9L430.0 283.7L431.0 284.5L432.0 285.3L433.0 286.0L434.0 286.7L435.0 287.3L436.0 287.9L437.0 288.5L438.0 289.1L439.0 289.6L440.0 290.1L441.0 290.6L442.0 291.0L443.0 291.4L444.0 291.8L445.0 292.2L446.0 292.5L447.0 292.9L448.0 293.2L449.0 293.5L450.0 293.7L451.0 294.0L452.0 294.2L453.0 294.5L454.0 294.7L455.0 294.9L456.0 295.1L457.0 295.2L458.0 295.4L459.0 295.5L460.0 295.7L461.0 295.8L462.0 295.9L463.0 296.0L464.0 296.1L465.0 296.2L466.0 296.2L467.0 296.3L468.0 296.3L469.0 296.4L470.0 296.4L471.0 296.5L472.0 296.5L473.0 296.5L474.0 296.6L475.0 296.6L476.0 296.6L477.0 296.6L478.0 296.6L479.0 296.6L480.0 296.6L481.0 296.6L482.0 296.6L483.0 296.6L484.0 296.6L485.0 296.6L486.0 296.5L487.0 296.5L488.0 296.5L489.0 296.5L490.0 296.5L491.0 296.5L492.0 296.4L493.0 296.4L494.0 296.4L495.0 296.4L496.0 296.4L497.0 296.3L498.0 296.3L499.0 296.3L500.0 296.3L501.0 296.3L502.0 296.3L503.0 296.2L504.0 296.2L505.0 296.2L506.0 296.2L507.0 296.2L508.0 296.2L509.0 296.2" fill="none" stroke="#e424ec" stroke-width="2.8" stroke-linejoin="round" stroke-linecap="round" opacity="1"/>
<path d="M152.0 352.5L153.0 352.2L154.0 351.6L155.0 351.6L156.0 352.8L157.0 353.1L158.0 352.5L159.0 352.4L160.0 352.2L161.0 351.9L162.0 352.0L163.0 351.7L164.0 351.1L165.0 351.1L166.0 351.3L167.0 351.3L168.0 351.1L169.0 350.7L170.0 350.4L171.0 350.3L172.0 350.5L173.0 350.5L174.0 350.2L175.0 349.8L176.0 349.4L177.0 350.0L178.0 349.9L179.0 348.3L180.0 347.3L181.0 347.7L182.0 348.4L183.0 348.6L184.0 348.6L185.0 348.3L186.0 347.8L187.0 347.3L188.0 347.2L189.0 346.8L190.0 346.1L191.0 345.9L192.0 346.4L193.0 346.5L194.0 345.4L195.0 344.5L196.0 344.8L197.0 345.1L198.0 344.9L199.0 344.4L200.0 343.7L201.0 344.0L202.0 343.8L203.0 342.7L204.0 342.7L205.0 343.0L206.0 342.6L207.0 342.7L208.0 342.7L209.0 341.5L210.0 340.3L211.0 339.8L212.0 339.7L213.0 339.2L214.0 338.6L215.0 338.4L216.0 337.8L217.0 336.6L218.0 335.3L219.0 335.1L220.0 335.7L221.0 335.8L222.0 335.3L223.0 334.1L224.0 333.0L225.0 332.6L226.0 331.6L227.0 330.2L228.0 329.9L229.0 330.0L230.0 329.0L231.0 327.6L232.0 326.2L233.0 325.1L234.0 324.4L235.0 323.0L236.0 321.4L237.0 320.0L238.0 318.7L239.0 317.8L240.0 316.6L241.0 314.9L242.0 313.2L243.0 311.0L244.0 308.6L245.0 306.2L246.0 303.8L247.0 301.3L248.0 298.3L249.0 295.2L250.0 292.0L251.0 288.5L252.0 285.1L253.0 282.1L254.0 279.1L255.0 275.6L256.0 271.7L257.0 266.8L258.0 260.3L259.0 253.7L260.0 247.3L261.0 240.3L262.0 233.4L263.0 226.9L264.0 220.5L265.0 215.0L266.0 210.5L267.0 205.5L268.0 199.9L269.0 194.1L270.0 186.8L271.0 178.2L272.0 169.6L273.0 161.4L274.0 153.5L275.0 146.2L276.0 138.8L277.0 130.4L278.0 122.1L279.0 113.8L280.0 105.7L281.0 98.3L282.0 91.8L283.0 86.2L284.0 80.9L285.0 76.3L286.0 73.6L287.0 71.8L288.0 70.1L289.0 67.9L290.0 65.6L291.0 63.5L292.0 62.1L293.0 61.3L294.0 60.6L295.0 59.9L296.0 59.5L297.0 59.8L298.0 60.5L299.0 61.3L300.0 61.9L301.0 62.3L302.0 62.7L303.0 63.6L304.0 64.5L305.0 65.5L306.0 66.8L307.0 67.9L308.0 69.5L309.0 71.5L310.0 73.4L311.0 75.0L312.0 76.9L313.0 79.5L314.0 82.0L315.0 84.4L316.0 87.4L317.0 89.7L318.0 91.6L319.0 93.5L320.0 94.6L321.0 94.8L322.0 95.1L323.0 96.2L324.0 96.9L325.0 97.4L326.0 98.5L327.0 98.7L328.0 98.5L329.0 99.0L330.0 99.9L331.0 100.9L332.0 101.3L333.0 100.7L334.0 100.8L335.0 101.4L336.0 101.9L337.0 102.5L338.0 102.3L339.0 101.8L340.0 101.4L341.0 100.9L342.0 101.5L343.0 102.2L344.0 102.0L345.0 102.2L346.0 103.5L347.0 104.6L348.0 104.6L349.0 105.0L350.0 106.0L351.0 106.6L352.0 107.7L353.0 109.1L354.0 110.3L355.0 111.5L356.0 113.0L357.0 113.7L358.0 113.7L359.0 114.7L360.0 116.9L361.0 118.9L362.0 120.0L363.0 120.9L364.0 122.4L365.0 124.2L366.0 125.7L367.0 127.0L368.0 128.5L369.0 131.0L370.0 132.7L371.0 134.2L372.0 136.8L373.0 138.5L374.0 139.2L375.0 140.9L376.0 143.7L377.0 145.9L378.0 147.1L379.0 149.0L380.0 151.7L381.0 153.6L382.0 156.0L383.0 159.4L384.0 161.5L385.0 162.4L386.0 163.7L387.0 165.1L388.0 166.4L389.0 168.4L390.0 170.3L391.0 171.7L392.0 173.8L393.0 176.4L394.0 178.6L395.0 180.5L396.0 182.3L397.0 183.5L398.0 184.7L399.0 186.6L400.0 189.2L401.0 191.7L402.0 193.6L403.0 195.2L404.0 196.5L405.0 198.2L406.0 200.0L407.0 202.2L408.0 205.1L409.0 206.8L410.0 207.7L411.0 209.4L412.0 211.3L413.0 213.1L414.0 215.1L415.0 216.8L416.0 218.6L417.0 220.4L418.0 222.2L419.0 223.7L420.0 225.3L421.0 227.3L422.0 229.4L423.0 231.4L424.0 233.6L425.0 235.8L426.0 237.2L427.0 238.3L428.0 239.6L429.0 241.1L430.0 243.0L431.0 244.1L432.0 244.9L433.0 246.8L434.0 247.9L435.0 248.2L436.0 249.7L437.0 251.2L438.0 252.2L439.0 253.6L440.0 255.4L441.0 257.3L442.0 259.3L443.0 260.9L444.0 261.6L445.0 262.5L446.0 263.5L447.0 264.2L448.0 264.5L449.0 265.1L450.0 266.8L451.0 268.9L452.0 270.3L453.0 271.0L454.0 271.3L455.0 272.0L456.0 273.5L457.0 274.3L458.0 274.3L459.0 274.6L460.0 275.6L461.0 276.9L462.0 277.6L463.0 277.9L464.0 278.7L465.0 279.3L466.0 279.4L467.0 279.4L468.0 279.7L469.0 280.6L470.0 282.5L471.0 283.4L472.0 283.0L473.0 283.6L474.0 284.3L475.0 284.5L476.0 285.0L477.0 285.6L478.0 286.4L479.0 286.8L480.0 287.2L481.0 287.8L482.0 287.6L483.0 287.4L484.0 288.3L485.0 289.4L486.0 289.8L487.0 289.8L488.0 289.9L489.0 290.7L490.0 291.4L491.0 292.0L492.0 292.6L493.0 292.2L494.0 291.6L495.0 292.1L496.0 293.2L497.0 293.9L498.0 294.2L499.0 294.8L500.0 295.4L501.0 295.4L502.0 294.9L503.0 295.3L504.0 295.5L505.0 295.5L506.0 296.3L507.0 296.9L508.0 296.7L509.0 296.3" fill="none" stroke="#d8181c" stroke-width="3.0" stroke-linejoin="round" stroke-linecap="round" opacity="1"/>
<path d="M733.7 348.6L734.7 348.8L735.7 349.0L736.7 349.2L737.7 349.4L738.7 349.6L739.7 350.0L740.7 350.3L741.7 350.6L742.7 350.9L743.7 350.4L744.7 349.9L745.7 349.4L746.7 348.8L747.7 348.5L748.7 348.4L749.7 348.3L750.7 348.2L751.7 348.1L752.7 349.1L753.7 350.2L754.7 351.2L755.7 352.2L756.7 352.5L757.7 352.1L758.7 351.8L759.7 351.4L760.7 351.0L761.7 350.5L762.7 349.9L763.7 349.4L764.7 348.8L765.7 349.0L766.7 349.7L767.7 350.4L768.7 351.0L769.7 351.5L770.7 351.2L771.7 350.8L772.7 350.4L773.7 350.0L774.7 349.1L775.7 347.7L776.7 346.3L777.7 344.9L778.7 343.5L779.7 343.6L780.7 343.7L781.7 343.8L782.7 343.9L783.7 343.2L784.7 341.8L785.7 340.3L786.7 338.9L787.7 337.4L788.7 337.3L789.7 337.2L790.7 337.1L791.7 337.0L792.7 336.9L793.7 336.8L794.7 336.7L795.7 336.6L796.7 336.5L797.7 335.4L798.7 334.4L799.7 333.4L800.7 332.4L801.7 331.7L802.7 331.2L803.7 330.8L804.7 330.4L805.7 330.0L806.7 329.1L807.7 328.2L808.7 327.2L809.7 326.3L810.7 326.0L811.7 326.2L812.7 326.5L813.7 326.8L814.7 327.1L815.7 326.3L816.7 325.4L817.7 324.6L818.7 323.8L819.7 323.0L820.7 322.3L821.7 321.5L822.7 320.8L823.7 320.0L824.7 320.1L825.7 320.2L826.7 320.3L827.7 320.4L828.7 320.3L829.7 320.0L830.7 319.6L831.7 319.3L832.7 319.0L833.7 318.3L834.7 317.5L835.7 316.8L836.7 316.1L837.7 315.7L838.7 315.6L839.7 315.5L840.7 315.4L841.7 315.4L842.7 315.5L843.7 315.7L844.7 315.8L845.7 316.0L846.7 315.4L847.7 314.1L848.7 312.7L849.7 311.4L850.7 310.0L851.7 310.2L852.7 310.4L853.7 310.6L854.7 310.7L855.7 310.8L856.7 310.9L857.7 311.0L858.7 311.0L859.7 311.0L860.7 309.4L861.7 307.8L862.7 306.2L863.7 304.4L864.7 303.0L865.7 302.2L866.7 301.3L867.7 300.3L868.7 299.2L869.7 298.2L870.7 297.2L871.7 296.1L872.7 294.9L873.7 293.7L874.7 292.3L875.7 290.9L876.7 289.2L877.7 287.4L878.7 285.2L879.7 283.0L880.7 280.8L881.7 278.5L882.7 276.4L883.7 274.5L884.7 272.7L885.7 271.1L886.7 269.5L887.7 267.4L888.7 265.4L889.7 263.4L890.7 261.5L891.7 260.2L892.7 259.6L893.7 259.1L894.7 258.6" fill="none" stroke="#7a7189" stroke-width="3.3" stroke-linejoin="round" stroke-linecap="round" opacity="1"/>
<path d="M1066.0 194.4L1067.0 194.0L1068.0 193.7L1069.0 193.2L1070.0 192.8L1071.0 192.3L1072.0 192.8L1073.0 193.3L1074.0 193.7L1075.0 194.1L1076.0 194.6L1077.0 194.8L1078.0 195.0L1079.0 195.2L1080.0 195.2L1081.0 195.0L1082.0 194.1L1083.0 193.2L1084.0 192.4L1085.0 191.7L1086.0 191.3L1087.0 191.3L1088.0 191.4L1089.0 191.6L1090.0 191.9L1091.0 192.2L1092.0 192.9L1093.0 193.7L1094.0 194.5L1095.0 195.3L1096.0 196.1L1097.0 196.8L1098.0 197.5L1099.0 198.2L1100.0 198.8L1101.0 199.6L1102.0 200.0L1103.0 200.6L1104.0 201.1L1105.0 201.7L1106.0 202.3L1107.0 203.3L1108.0 204.3L1109.0 205.2L1110.0 206.1L1111.0 206.8L1112.0 207.6L1113.0 208.3L1114.0 208.9L1115.0 209.5L1116.0 210.0L1117.0 209.9L1118.0 209.7L1119.0 209.4L1120.0 209.2L1121.0 208.9L1122.0 209.8L1123.0 210.7L1124.0 211.5L1125.0 212.4L1126.0 213.3L1127.0 213.7L1128.0 214.1L1129.0 214.5L1130.0 214.9L1131.0 215.3L1132.0 215.3L1133.0 215.3L1134.0 215.3L1135.0 215.3L1136.0 215.4L1137.0 215.8L1138.0 216.3L1139.0 216.8L1140.0 217.3L1141.0 217.7L1142.0 217.8L1143.0 217.9L1144.0 217.9L1145.0 218.0L1146.0 218.0L1147.0 218.8L1148.0 219.6L1149.0 220.4L1150.0 221.2L1151.0 222.0L1152.0 222.7L1153.0 223.4L1154.0 224.1L1155.0 224.7L1156.0 225.4L1157.0 224.8L1158.0 224.2L1159.0 223.5L1160.0 222.9L1161.0 222.3L1162.0 222.7L1163.0 223.2L1164.0 223.6L1165.0 224.0L1166.0 224.4L1167.0 225.0L1168.0 225.5L1169.0 226.0L1170.0 226.5L1171.0 227.0L1172.0 226.9L1173.0 226.8L1174.0 226.7L1175.0 226.5L1176.0 226.3L1177.0 226.3L1178.0 226.2L1179.0 226.1L1180.0 226.0L1181.0 225.9L1182.0 226.2L1183.0 226.4L1184.0 226.7L1185.0 227.0L1186.0 227.2L1187.0 226.5L1188.0 225.7L1189.0 224.9L1190.0 224.2L1191.0 223.4L1192.0 223.7L1193.0 223.9L1194.0 224.1L1195.0 224.4L1196.0 224.6L1197.0 225.3L1198.0 226.1L1199.0 226.8L1200.0 227.6L1201.0 228.3L1202.0 227.4L1203.0 226.4L1204.0 225.4L1205.0 224.3L1206.0 223.1L1207.0 222.5L1208.0 221.9L1209.0 221.2L1210.0 220.5L1211.0 219.8L1212.0 220.2L1213.0 220.5" fill="none" stroke="#7a7189" stroke-width="3.3" stroke-linejoin="round" stroke-linecap="round" opacity="1"/>
<path d="M894.0 260.6L895.0 260.5L896.0 260.4L897.0 260.3L898.0 260.2L899.0 260.1L900.0 260.0L901.0 259.9L902.0 259.8L903.0 259.7L904.0 259.6L905.0 259.5L906.0 259.4L907.0 259.3L908.0 259.1L909.0 259.0L910.0 258.9L911.0 258.8L912.0 258.7L913.0 258.5L914.0 258.4L915.0 258.2L916.0 258.1L917.0 257.9L918.0 257.8L919.0 257.6L920.0 257.4L921.0 257.2L922.0 257.0L923.0 256.8L924.0 256.5L925.0 256.2L926.0 255.8L927.0 255.4L928.0 255.0L929.0 254.5L930.0 254.0L931.0 253.4L932.0 252.9L933.0 252.3L934.0 251.7L935.0 251.0L936.0 250.4L937.0 249.7L938.0 249.0L939.0 248.3L940.0 247.6L941.0 246.9L942.0 246.1L943.0 245.4L944.0 244.7L945.0 244.0L946.0 243.3L947.0 242.5L948.0 241.8L949.0 241.0L950.0 240.1L951.0 239.3L952.0 238.4L953.0 237.4L954.0 236.5L955.0 235.5L956.0 234.6L957.0 233.6L958.0 232.6L959.0 231.6L960.0 230.6L961.0 229.6L962.0 228.6L963.0 227.7L964.0 226.7L965.0 225.8L966.0 224.9L967.0 224.0L968.0 223.1L969.0 222.3L970.0 221.5L971.0 220.7L972.0 220.0L973.0 219.2L974.0 218.5L975.0 217.8L976.0 217.1L977.0 216.4L978.0 215.7L979.0 215.0L980.0 214.4L981.0 213.7L982.0 213.0L983.0 212.4L984.0 211.8L985.0 211.1L986.0 210.5L987.0 209.9L988.0 209.3L989.0 208.7L990.0 208.1L991.0 207.5L992.0 206.8L993.0 206.2L994.0 205.6L995.0 205.0L996.0 204.4L997.0 203.8L998.0 203.3L999.0 202.8L1000.0 202.3L1001.0 201.8L1002.0 201.3L1003.0 200.9L1004.0 200.5L1005.0 200.2L1006.0 199.9L1007.0 199.5L1008.0 199.2L1009.0 198.9L1010.0 198.6L1011.0 198.3L1012.0 198.1L1013.0 197.8L1014.0 197.6L1015.0 197.3L1016.0 197.1L1017.0 196.9L1018.0 196.7L1019.0 196.5L1020.0 196.3L1021.0 196.2L1022.0 196.0L1023.0 195.9L1024.0 195.8L1025.0 195.7L1026.0 195.6L1027.0 195.5L1028.0 195.4L1029.0 195.3L1030.0 195.2L1031.0 195.1L1032.0 195.0L1033.0 194.9L1034.0 194.8L1035.0 194.7L1036.0 194.7L1037.0 194.6L1038.0 194.5L1039.0 194.4L1040.0 194.3L1041.0 194.2L1042.0 194.1L1043.0 194.0L1044.0 193.9L1045.0 193.8L1046.0 193.7L1047.0 193.5L1048.0 193.4L1049.0 193.3L1050.0 193.2L1051.0 193.1L1052.0 193.0L1053.0 193.0L1054.0 192.9L1055.0 192.8L1056.0 192.7L1057.0 192.6L1058.0 192.5L1059.0 192.4L1060.0 192.4L1061.0 192.3L1062.0 192.2L1063.0 192.1L1064.0 192.1L1065.0 192.0L1066.0 191.9L1067.0 191.9L1068.0 191.8L1069.0 191.8" fill="none" stroke="#847c8c" stroke-width="2.8" stroke-linejoin="round" stroke-linecap="round" opacity="1"/>
<path d="M894.0 258.5L895.0 257.9L896.0 257.3L897.0 256.6L898.0 255.8L899.0 254.8L900.0 253.8L901.0 252.7L902.0 251.5L903.0 250.1L904.0 248.7L905.0 247.2L906.0 245.6L907.0 243.9L908.0 242.1L909.0 240.3L910.0 238.5L911.0 236.7L912.0 235.0L913.0 233.3L914.0 231.7L915.0 230.2L916.0 228.9L917.0 227.7L918.0 226.7L919.0 226.0L920.0 225.4L921.0 225.1L922.0 225.0L923.0 225.1L924.0 225.5L925.0 225.9L926.0 226.6L927.0 227.4L928.0 228.3L929.0 229.2L930.0 230.3L931.0 231.4L932.0 232.5L933.0 233.6L934.0 234.6L935.0 235.6L936.0 236.5L937.0 237.4L938.0 238.1L939.0 238.8L940.0 239.3L941.0 239.7L942.0 240.0L943.0 240.2L944.0 240.3L945.0 240.3L946.0 240.2L947.0 240.0L948.0 239.7L949.0 239.3L950.0 238.8" fill="none" stroke="#1f7420" stroke-width="2.6" stroke-linejoin="round" stroke-linecap="round" opacity="1"/>
<path d="M948.0 240.2L949.0 239.1L950.0 238.0L951.0 236.7L952.0 235.4L953.0 234.1L954.0 232.6L955.0 231.1L956.0 229.4L957.0 227.8L958.0 226.0L959.0 224.1L960.0 222.2L961.0 220.2L962.0 218.1L963.0 216.0L964.0 213.8L965.0 211.5L966.0 209.2L967.0 206.8L968.0 204.4L969.0 202.0L970.0 199.6L971.0 197.2L972.0 194.7L973.0 192.2L974.0 189.8L975.0 187.4L976.0 185.0L977.0 182.7L978.0 180.4L979.0 178.2L980.0 176.1L981.0 174.2L982.0 172.3L983.0 170.6L984.0 169.1L985.0 167.7L986.0 166.5L987.0 165.4L988.0 164.6L989.0 163.9L990.0 163.4L991.0 163.0L992.0 162.9L993.0 162.9L994.0 163.1L995.0 163.4L996.0 163.9L997.0 164.6L998.0 165.3L999.0 166.2L1000.0 167.3L1001.0 168.4L1002.0 169.6L1003.0 170.8L1004.0 172.2L1005.0 173.5L1006.0 174.9L1007.0 176.3L1008.0 177.7L1009.0 179.0L1010.0 180.3L1011.0 181.5L1012.0 182.7L1013.0 183.8L1014.0 184.9L1015.0 185.9L1016.0 186.8L1017.0 187.7L1018.0 188.5L1019.0 189.2L1020.0 189.9L1021.0 190.5L1022.0 191.1L1023.0 191.6L1024.0 192.0L1025.0 192.4L1026.0 192.7L1027.0 193.0L1028.0 193.3L1029.0 193.5L1030.0 193.7" fill="none" stroke="#e424ec" stroke-width="2.6" stroke-linejoin="round" stroke-linecap="round" opacity="1"/>
<path d="M987.0 209.9L988.0 209.3L989.0 208.7L990.0 208.0L991.0 207.4L992.0 206.8L993.0 206.2L994.0 205.5L995.0 204.9L996.0 204.3L997.0 203.7L998.0 203.1L999.0 202.5L1000.0 202.0L1001.0 201.4L1002.0 200.9L1003.0 200.4L1004.0 199.9L1005.0 199.5L1006.0 199.0L1007.0 198.5L1008.0 198.0L1009.0 197.5L1010.0 196.9L1011.0 196.4L1012.0 195.8L1013.0 195.2L1014.0 194.6L1015.0 193.9L1016.0 193.3L1017.0 192.6L1018.0 191.9L1019.0 191.1L1020.0 190.4L1021.0 189.6L1022.0 188.8L1023.0 188.0L1024.0 187.2L1025.0 186.4L1026.0 185.6L1027.0 184.9L1028.0 184.1L1029.0 183.4L1030.0 182.7L1031.0 182.0L1032.0 181.4L1033.0 180.8L1034.0 180.3L1035.0 179.9L1036.0 179.5L1037.0 179.2L1038.0 179.0L1039.0 178.9L1040.0 178.8L1041.0 178.8L1042.0 178.9L1043.0 179.1L1044.0 179.4L1045.0 179.7L1046.0 180.0L1047.0 180.5L1048.0 180.9L1049.0 181.4L1050.0 182.0L1051.0 182.5L1052.0 183.1L1053.0 183.7L1054.0 184.3L1055.0 184.9L1056.0 185.5L1057.0 186.0L1058.0 186.6L1059.0 187.1L1060.0 187.5L1061.0 188.0L1062.0 188.4L1063.0 188.7L1064.0 189.1L1065.0 189.4L1066.0 189.7L1067.0 189.9L1068.0 190.2L1069.0 190.4" fill="none" stroke="#7a22e8" stroke-width="2.6" stroke-linejoin="round" stroke-linecap="round" opacity="1"/>
<path d="M894.0 259.6L895.0 259.4L896.0 259.3L897.0 259.1L898.0 259.0L899.0 258.8L900.0 258.7L901.0 258.5L902.0 258.3L903.0 258.1L904.0 257.9L905.0 257.7L906.0 257.5L907.0 257.2L908.0 256.9L909.0 256.6L910.0 256.3L911.0 256.0L912.0 255.6L913.0 255.1L914.0 254.6L915.0 254.1L916.0 253.5L917.0 252.9L918.0 252.1L919.0 251.4L920.0 250.5L921.0 249.5L922.0 248.5L923.0 247.3L924.0 246.0L925.0 244.6L926.0 243.0L927.0 241.2L928.0 239.3L929.0 237.2L930.0 235.0L931.0 232.5L932.0 229.9L933.0 227.2L934.0 224.2L935.0 221.1L936.0 217.8L937.0 214.3L938.0 210.7L939.0 206.9L940.0 202.9L941.0 198.8L942.0 194.6L943.0 190.3L944.0 185.8L945.0 181.2L946.0 176.6L947.0 171.9L948.0 167.1L949.0 162.2L950.0 157.3L951.0 152.4L952.0 147.5L953.0 142.7L954.0 137.9L955.0 133.2L956.0 128.6L957.0 124.2L958.0 120.0L959.0 116.1L960.0 112.4L961.0 108.9L962.0 105.8L963.0 103.0L964.0 100.5L965.0 98.4L966.0 96.7L967.0 95.4L968.0 94.5L969.0 94.1L970.0 94.0L971.0 94.3L972.0 95.0L973.0 96.0L974.0 97.3L975.0 99.0L976.0 101.0L977.0 103.2L978.0 105.7L979.0 108.4L980.0 111.3L981.0 114.3L982.0 117.5L983.0 120.8L984.0 124.1L985.0 127.5L986.0 131.0L987.0 134.4L988.0 137.9L989.0 141.2L990.0 144.6L991.0 147.8L992.0 150.9L993.0 154.0L994.0 156.9L995.0 159.7L996.0 162.4L997.0 164.9L998.0 167.4L999.0 169.7L1000.0 171.8L1001.0 173.9L1002.0 175.8L1003.0 177.6L1004.0 179.2L1005.0 180.8L1006.0 182.3L1007.0 183.6L1008.0 184.8L1009.0 185.8L1010.0 186.8L1011.0 187.7L1012.0 188.4L1013.0 189.1L1014.0 189.7L1015.0 190.3L1016.0 190.8L1017.0 191.2L1018.0 191.5L1019.0 191.8L1020.0 192.1L1021.0 192.4L1022.0 192.6L1023.0 192.7L1024.0 192.9L1025.0 193.0L1026.0 193.1L1027.0 193.2L1028.0 193.3L1029.0 193.3L1030.0 193.4L1031.0 193.4L1032.0 193.4L1033.0 193.4L1034.0 193.4L1035.0 193.4L1036.0 193.4L1037.0 193.4L1038.0 193.3L1039.0 193.3L1040.0 193.2L1041.0 193.1L1042.0 193.1L1043.0 193.0L1044.0 192.9L1045.0 192.9L1046.0 192.8L1047.0 192.7L1048.0 192.6L1049.0 192.5L1050.0 192.4L1051.0 192.4L1052.0 192.3L1053.0 192.2L1054.0 192.1L1055.0 192.1L1056.0 192.0L1057.0 191.9L1058.0 191.9L1059.0 191.8L1060.0 191.7L1061.0 191.7L1062.0 191.6L1063.0 191.5L1064.0 191.5L1065.0 191.4L1066.0 191.4L1067.0 191.3L1068.0 191.3L1069.0 191.3" fill="none" stroke="#2a14e6" stroke-width="2.6" stroke-linejoin="round" stroke-linecap="round" opacity="1"/>
<path d="M915.0 256.8L916.0 256.3L917.0 255.8L918.0 255.2L919.0 254.5L920.0 253.6L921.0 252.6L922.0 251.4L923.0 250.0L924.0 248.4L925.0 246.5L926.0 244.4L927.0 241.9L928.0 239.2L929.0 236.2L930.0 233.0L931.0 229.4L932.0 225.7L933.0 221.8L934.0 217.7L935.0 213.6L936.0 209.4L937.0 205.3L938.0 201.4L939.0 197.6L940.0 194.2L941.0 191.1L942.0 188.4L943.0 186.3L944.0 184.7L945.0 183.7L946.0 183.3L947.0 183.4L948.0 184.1L949.0 185.2L950.0 186.7L951.0 188.6L952.0 190.8L953.0 193.1L954.0 195.6L955.0 198.1L956.0 200.6L957.0 203.1L958.0 205.4L959.0 207.6L960.0 209.6L961.0 211.4L962.0 212.9L963.0 214.2L964.0 215.3L965.0 216.1L966.0 216.8L967.0 217.2L968.0 217.5L969.0 217.7L970.0 217.7L971.0 217.6L972.0 217.4L973.0 217.1L974.0 216.8L975.0 216.3" fill="none" stroke="#14106a" stroke-width="2.6" stroke-linejoin="round" stroke-linecap="round" opacity="1"/>
<path d="M894.0 257.9L895.0 256.5L896.0 256.7L897.0 257.3L898.0 256.8L899.0 254.5L900.0 251.8L901.0 250.7L902.0 251.4L903.0 251.1L904.0 247.8L905.0 244.1L906.0 243.5L907.0 244.1L908.0 241.4L909.0 237.7L910.0 236.2L911.0 234.5L912.0 232.8L913.0 231.3L914.0 229.9L915.0 228.9L916.0 226.6L917.0 224.1L918.0 223.0L919.0 220.4L920.0 216.4L921.0 213.8L922.0 211.7L923.0 209.0L924.0 206.2L925.0 204.1L926.0 201.6L927.0 197.7L928.0 193.8L929.0 190.3L930.0 186.3L931.0 182.8L932.0 179.9L933.0 176.7L934.0 174.3L935.0 169.5L936.0 163.1L937.0 158.5L938.0 153.7L939.0 148.7L940.0 142.7L941.0 136.0L942.0 131.5L943.0 128.1L944.0 123.7L945.0 119.1L946.0 115.4L947.0 111.4L948.0 107.7L949.0 105.7L950.0 104.5L951.0 103.0L952.0 100.8L953.0 97.2L954.0 93.8L955.0 90.4L956.0 86.4L957.0 84.3L958.0 82.6L959.0 79.3L960.0 76.4L961.0 74.5L962.0 72.4L963.0 69.8L964.0 67.8L965.0 66.3L966.0 63.8L967.0 61.7L968.0 60.1L969.0 57.2L970.0 54.8L971.0 55.1L972.0 56.4L973.0 55.9L974.0 54.7L975.0 55.7L976.0 57.3L977.0 57.5L978.0 58.8L979.0 61.2L980.0 62.3L981.0 64.2L982.0 66.6L983.0 68.5L984.0 71.4L985.0 74.2L986.0 75.3L987.0 76.7L988.0 80.7L989.0 86.7L990.0 92.7L991.0 97.9L992.0 102.4L993.0 106.5L994.0 110.7L995.0 115.0L996.0 119.2L997.0 122.7L998.0 127.3L999.0 132.1L1000.0 133.6L1001.0 135.6L1002.0 140.4L1003.0 143.0L1004.0 144.8L1005.0 148.6L1006.0 151.3L1007.0 153.2L1008.0 155.7L1009.0 158.8L1010.0 163.0L1011.0 166.1L1012.0 167.3L1013.0 169.4L1014.0 170.9L1015.0 170.3L1016.0 170.9L1017.0 171.5L1018.0 171.0L1019.0 171.6L1020.0 173.1L1021.0 173.7L1022.0 173.3L1023.0 173.9L1024.0 174.8L1025.0 175.1L1026.0 175.3L1027.0 175.2L1028.0 175.8L1029.0 176.7L1030.0 175.8L1031.0 175.0L1032.0 174.5L1033.0 173.4L1034.0 173.8L1035.0 175.3L1036.0 176.3L1037.0 176.4L1038.0 174.5L1039.0 174.0L1040.0 176.6L1041.0 176.5L1042.0 175.2L1043.0 176.2L1044.0 175.3L1045.0 173.6L1046.0 174.4L1047.0 176.6L1048.0 178.0L1049.0 177.3L1050.0 177.0L1051.0 177.7L1052.0 177.8L1053.0 178.4L1054.0 180.4L1055.0 182.3L1056.0 182.0L1057.0 180.5L1058.0 180.7L1059.0 182.2L1060.0 182.7L1061.0 182.5L1062.0 184.2L1063.0 188.0L1064.0 188.8L1065.0 188.3L1066.0 190.7L1067.0 191.3L1068.0 189.9" fill="none" stroke="#d8181c" stroke-width="3.0" stroke-linejoin="round" stroke-linecap="round" opacity="1"/>
<path d="M110.0 862.5L110.5 862.5L111.0 862.5L111.5 862.5L112.0 862.5L112.5 862.5L113.0 862.5L113.5 862.5L114.0 862.5L114.5 862.5L115.0 862.5L115.5 862.5L116.0 862.5L116.5 862.5L117.0 862.5L117.5 862.5L118.0 862.5L118.5 862.5L119.0 862.5L119.5 862.5L120.0 862.5L120.5 862.5L121.0 862.5L121.5 862.5L122.0 862.5L122.5 862.5L123.0 862.5L123.5 862.5L124.0 862.5L124.5 862.5L125.0 862.5L125.5 862.5L126.0 862.5L126.5 862.5L127.0 862.5L127.5 862.5L128.0 862.5L128.5 862.4L129.0 862.4L129.5 862.4L130.0 862.4L130.5 862.4L131.0 862.4L131.5 862.4L132.0 862.4L132.5 862.4L133.0 862.4L133.5 862.4L134.0 862.4L134.5 862.4L135.0 862.4L135.5 862.4L136.0 862.4L136.5 862.4L137.0 862.4L137.5 862.4L138.0 862.4L138.5 862.4L139.0 862.4L139.5 862.4L140.0 862.4L140.5 862.4L141.0 862.4L141.5 862.4L142.0 862.4L142.5 862.4L143.0 862.4L143.5 862.4L144.0 862.3L144.5 862.3L145.0 862.3L145.5 862.3L146.0 862.3L146.5 862.3L147.0 862.3L147.5 862.3L148.0 862.3L148.5 862.3L149.0 862.3L149.5 862.3L150.0 862.3L150.5 862.3L151.0 862.3L151.5 862.3L152.0 862.3L152.5 862.3L153.0 862.3L153.5 862.3L154.0 862.3L154.5 862.3L155.0 862.3L155.5 862.2L156.0 862.2L156.5 862.2L157.0 862.2L157.5 862.2L158.0 862.2L158.5 862.2L159.0 862.2L159.5 862.2L160.0 862.2L160.5 862.2L161.0 862.2L161.5 862.2L162.0 862.2L162.5 862.1L163.0 862.1L163.5 862.1L164.0 862.1L164.5 862.1L165.0 862.1L165.5 862.1L166.0 862.1L166.5 862.1L167.0 862.1L167.5 862.1L168.0 862.1L168.5 862.0L169.0 862.0L169.5 862.0L170.0 862.0L170.5 862.0L171.0 862.0L171.5 862.0L172.0 862.0L172.5 862.0L173.0 862.0L173.5 861.9L174.0 861.9L174.5 861.9L175.0 861.9L175.5 861.9L176.0 861.9L176.5 861.9L177.0 861.9L177.5 861.8L178.0 861.8L178.5 861.8L179.0 861.8L179.5 861.8L180.0 861.8L180.5 861.8L181.0 861.8L181.5 861.7L182.0 861.7L182.5 861.7L183.0 861.7L183.5 861.7L184.0 861.7L184.5 861.7L185.0 861.6L185.5 861.6L186.0 861.6L186.5 861.6L187.0 861.6L187.5 861.6L188.0 861.6L188.5 861.5L189.0 861.5L189.5 861.5L190.0 861.5L190.5 861.5L191.0 861.5L191.5 861.5L192.0 861.4L192.5 861.4L193.0 861.4L193.5 861.4L194.0 861.4L194.5 861.3L195.0 861.3L195.5 861.3L196.0 861.3L196.5 861.3L197.0 861.2L197.5 861.2L198.0 861.2L198.5 861.2L199.0 861.1L199.5 861.1L200.0 861.1L200.5 861.1L201.0 861.0L201.5 861.0L202.0 861.0L202.5 860.9L203.0 860.9L203.5 860.9L204.0 860.9L204.5 860.8L205.0 860.8L205.5 860.8L206.0 860.7L206.5 860.7L207.0 860.7L207.5 860.6L208.0 860.6L208.5 860.5L209.0 860.5L209.5 860.5L210.0 860.4L210.5 860.4L211.0 860.4L211.5 860.3L212.0 860.3L212.5 860.2L213.0 860.2L213.5 860.1L214.0 860.1L214.5 860.0L215.0 859.9L215.5 859.9L216.0 859.8L216.5 859.8L217.0 859.7L217.5 859.6L218.0 859.6L218.5 859.5L219.0 859.4L219.5 859.3L220.0 859.3L220.5 859.2L221.0 859.1L221.5 859.0L222.0 859.0L222.5 858.9L223.0 858.8L223.5 858.7L224.0 858.6L224.5 858.5L225.0 858.4L225.5 858.4L226.0 858.3L226.5 858.2L227.0 858.1L227.5 858.0L228.0 857.9L228.5 857.8L229.0 857.7L229.5 857.6L230.0 857.5L230.5 857.4L231.0 857.3L231.5 857.2L232.0 857.1L232.5 857.0L233.0 856.9L233.5 856.8L234.0 856.7L234.5 856.6L235.0 856.5L235.5 856.4L236.0 856.3L236.5 856.2L237.0 856.0L237.5 855.9L238.0 855.8L238.5 855.7L239.0 855.5L239.5 855.4L240.0 855.3L240.5 855.1L241.0 855.0L241.5 854.8L242.0 854.7L242.5 854.6L243.0 854.4L243.5 854.3L244.0 854.1L244.5 853.9L245.0 853.8L245.5 853.6L246.0 853.5L246.5 853.3L247.0 853.1L247.5 853.0L248.0 852.8L248.5 852.6L249.0 852.4L249.5 852.3L250.0 852.1L250.5 851.9L251.0 851.7L251.5 851.5L252.0 851.3L252.5 851.1L253.0 850.9L253.5 850.7L254.0 850.5L254.5 850.3L255.0 850.0L255.5 849.8L256.0 849.6L256.5 849.3L257.0 849.1L257.5 848.8L258.0 848.5L258.5 848.3L259.0 848.0L259.5 847.7L260.0 847.4L260.5 847.1L261.0 846.8L261.5 846.5L262.0 846.2L262.5 845.8L263.0 845.5L263.5 845.1L264.0 844.7L264.5 844.3L265.0 843.8L265.5 843.4L266.0 842.9L266.5 842.4L267.0 841.8L267.5 841.3L268.0 840.7L268.5 840.1L269.0 839.5L269.5 838.9L270.0 838.3L270.5 837.6L271.0 837.0L271.5 836.3L272.0 835.6L272.5 834.8L273.0 834.1L273.5 833.3L274.0 832.5L274.5 831.7L275.0 830.8L275.5 829.9L276.0 828.9L276.5 827.9L277.0 826.9L277.5 825.8L278.0 824.7L278.5 823.6L279.0 822.4L279.5 821.1L280.0 819.8L280.5 818.5L281.0 817.1L281.5 815.6L282.0 814.1L282.5 812.5L283.0 810.8L283.5 809.0L284.0 807.0L284.5 804.9L285.0 802.6L285.5 800.2L286.0 797.6L286.5 794.8L287.0 791.2L287.5 786.9L288.0 782.3L288.5 777.7L289.0 773.2L289.5 769.3L290.0 765.7L290.5 762.3L291.0 759.1L291.5 756.0L292.0 753.0L292.5 750.0L293.0 746.9L293.5 743.7L294.0 740.4L294.5 736.9L295.0 733.1L295.5 729.0L296.0 724.6L296.5 720.0L297.0 715.1L297.5 710.0L298.0 704.7L298.5 699.3L299.0 693.7L299.5 688.1L300.0 682.3L300.5 676.0L301.0 669.4L301.5 662.6L302.0 655.9L302.5 649.4L303.0 643.4L303.5 638.0L304.0 633.2L304.5 628.5L305.0 623.7L305.5 618.4L306.0 612.4L306.5 605.5L307.0 598.7L307.5 592.4L308.0 586.8L308.5 581.4L309.0 576.4L309.5 571.7L310.0 567.4L310.5 563.5L311.0 559.9L311.5 556.7L312.0 553.9L312.5 551.1L313.0 548.6L313.5 546.7L314.0 545.6L314.5 544.6L315.0 543.9L315.5 543.5L316.0 543.6L316.5 543.9L317.0 544.5L317.5 545.2L318.0 546.0L318.5 547.3L319.0 549.5L319.5 552.4L320.0 555.7L320.5 560.2L321.0 565.4L321.5 570.2L322.0 574.7L322.5 579.2L323.0 583.8L323.5 588.5L324.0 593.4L324.5 598.7L325.0 604.2L325.5 609.7L326.0 615.2L326.5 620.4L327.0 625.5L327.5 630.6L328.0 635.6L328.5 640.4L329.0 645.1L329.5 649.7L330.0 654.1L330.5 658.5L331.0 662.8L331.5 667.1L332.0 671.4L332.5 675.8L333.0 680.3L333.5 684.9L334.0 689.7L334.5 694.7L335.0 699.9L335.5 705.2L336.0 710.5L336.5 715.7L337.0 720.8L337.5 725.5L338.0 729.9L338.5 733.8L339.0 737.6L339.5 741.2L340.0 744.6L340.5 747.9L341.0 751.1L341.5 754.1L342.0 757.1L342.5 760.0L343.0 762.8L343.5 765.6L344.0 768.4L344.5 771.0L345.0 773.5L345.5 776.0L346.0 778.2L346.5 780.4L347.0 782.4L347.5 784.4L348.0 786.3L348.5 788.2L349.0 790.0L349.5 791.8L350.0 793.5L350.5 795.1L351.0 796.6L351.5 798.1L352.0 799.4L352.5 800.7L353.0 801.8L353.5 802.9L354.0 803.9L354.5 804.9L355.0 805.9L355.5 806.8L356.0 807.7L356.5 808.5L357.0 809.4L357.5 810.1L358.0 810.9L358.5 811.6L359.0 812.3L359.5 813.0L360.0 813.6L360.5 814.3L361.0 814.9L361.5 815.4L362.0 816.0L362.5 816.6L363.0 817.1L363.5 817.6L364.0 818.1L364.5 818.6L365.0 819.1L365.5 819.6L366.0 820.0L366.5 820.5L367.0 820.9L367.5 821.3L368.0 821.7L368.5 822.1L369.0 822.5L369.5 822.9L370.0 823.3L370.5 823.6L371.0 824.0L371.5 824.3L372.0 824.7L372.5 825.0L373.0 825.3L373.5 825.7L374.0 826.0L374.5 826.3L375.0 826.6L375.5 826.9L376.0 827.2L376.5 827.5L377.0 827.8L377.5 828.1L378.0 828.3L378.5 828.6L379.0 828.9L379.5 829.2L380.0 829.4L380.5 829.7L381.0 829.9L381.5 830.2L382.0 830.4L382.5 830.7L383.0 830.9L383.5 831.1L384.0 831.4L384.5 831.6L385.0 831.8L385.5 832.1L386.0 832.3L386.5 832.5L387.0 832.7L387.5 832.9L388.0 833.1L388.5 833.4L389.0 833.6L389.5 833.8L390.0 834.0L390.5 834.2L391.0 834.4L391.5 834.6L392.0 834.8L392.5 835.0L393.0 835.2L393.5 835.4L394.0 835.6L394.5 835.8L395.0 836.0L395.5 836.2L396.0 836.4L396.5 836.6L397.0 836.7L397.5 836.9L398.0 837.1L398.5 837.3L399.0 837.4L399.5 837.6L400.0 837.8L400.5 837.9L401.0 838.1L401.5 838.3L402.0 838.4L402.5 838.6L403.0 838.7L403.5 838.9L404.0 839.0L404.5 839.1L405.0 839.3L405.5 839.4L406.0 839.5L406.5 839.7L407.0 839.8L407.5 839.9L408.0 840.0L408.5 840.1L409.0 840.2L409.5 840.3L410.0 840.4L410.5 840.5L411.0 840.6L411.5 840.7L412.0 840.8L412.5 840.9L413.0 841.0L413.5 841.1L414.0 841.2L414.5 841.3L415.0 841.3L415.5 841.4L416.0 841.5L416.5 841.6L417.0 841.7L417.5 841.8L418.0 841.8L418.5 841.9L419.0 842.0L419.5 842.1L420.0 842.1L420.5 842.2L421.0 842.3L421.5 842.3L422.0 842.4L422.5 842.5L423.0 842.5L423.5 842.6L424.0 842.7L424.5 842.7L425.0 842.8L425.5 842.9L426.0 842.9L426.5 843.0L427.0 843.0L427.5 843.1L428.0 843.1L428.5 843.2L429.0 843.2L429.5 843.3L430.0 843.3L430.5 843.4L431.0 843.4L431.5 843.5L432.0 843.5L432.5 843.5L433.0 843.6L433.5 843.6L434.0 843.7L434.5 843.7L435.0 843.7L435.5 843.8L436.0 843.8L436.5 843.9L437.0 843.9L437.5 843.9L438.0 844.0L438.5 844.0L439.0 844.0L439.5 844.1L440.0 844.1L440.5 844.2L441.0 844.2L441.5 844.2L442.0 844.3L442.5 844.3L443.0 844.3L443.5 844.3L444.0 844.4L444.5 844.4L445.0 844.4L445.5 844.5L446.0 844.5L446.5 844.5L447.0 844.5L447.5 844.6L448.0 844.6L448.5 844.6L449.0 844.6L449.5 844.7L450.0 844.7L450.5 844.7L451.0 844.7L451.5 844.8L452.0 844.8L452.5 844.8L453.0 844.8L453.5 844.9L454.0 844.9L454.5 844.9L455.0 844.9L455.5 845.0L456.0 845.0L456.5 845.0L457.0 845.0L457.5 845.1L458.0 845.1L458.5 845.1L459.0 845.1L459.5 845.2L460.0 845.2L460.5 845.2L461.0 845.2L461.5 845.2L462.0 845.3L462.5 845.3L463.0 845.3L463.5 845.3L464.0 845.4L464.5 845.4L465.0 845.4L465.5 845.4L466.0 845.4L466.5 845.5L467.0 845.5L467.5 845.5L468.0 845.5L468.5 845.5L469.0 845.6L469.5 845.6L470.0 845.6L470.5 845.6L471.0 845.6L471.5 845.7L472.0 845.7L472.5 845.7L473.0 845.7L473.5 845.7L474.0 845.8L474.5 845.8L475.0 845.8L475.5 845.8L476.0 845.8L476.5 845.8L477.0 845.9L477.5 845.9L478.0 845.9L478.5 845.9L479.0 845.9L479.5 845.9L480.0 845.9L480.5 846.0L481.0 846.0L481.5 846.0L482.0 846.0L482.5 846.0L483.0 846.0L483.5 846.0L484.0 846.1L484.5 846.1L485.0 846.1L485.5 846.1L486.0 846.1L486.5 846.1L487.0 846.1L487.5 846.1L488.0 846.1L488.5 846.1L489.0 846.2L489.5 846.2L490.0 846.2L490.5 846.2L491.0 846.2L491.5 846.2" fill="none" stroke="#080808" stroke-width="3.0" stroke-linejoin="round" stroke-linecap="round" opacity="1"/>
<path d="M110.0 862.8L110.5 862.8L111.0 862.8L111.5 862.8L112.0 862.8L112.5 862.8L113.0 862.8L113.5 862.8L114.0 862.8L114.5 862.8L115.0 862.8L115.5 862.8L116.0 862.8L116.5 862.8L117.0 862.8L117.5 862.8L118.0 862.8L118.5 862.8L119.0 862.8L119.5 862.8L120.0 862.8L120.5 862.8L121.0 862.8L121.5 862.8L122.0 862.8L122.5 862.8L123.0 862.8L123.5 862.8L124.0 862.8L124.5 862.8L125.0 862.8L125.5 862.8L126.0 862.8L126.5 862.8L127.0 862.8L127.5 862.8L128.0 862.8L128.5 862.8L129.0 862.8L129.5 862.8L130.0 862.8L130.5 862.8L131.0 862.8L131.5 862.8L132.0 862.8L132.5 862.8L133.0 862.8L133.5 862.8L134.0 862.8L134.5 862.8L135.0 862.8L135.5 862.8L136.0 862.8L136.5 862.8L137.0 862.8L137.5 862.8L138.0 862.8L138.5 862.8L139.0 862.8L139.5 862.7L140.0 862.7L140.5 862.7L141.0 862.7L141.5 862.7L142.0 862.7L142.5 862.7L143.0 862.7L143.5 862.7L144.0 862.7L144.5 862.7L145.0 862.7L145.5 862.7L146.0 862.7L146.5 862.7L147.0 862.7L147.5 862.7L148.0 862.7L148.5 862.7L149.0 862.7L149.5 862.7L150.0 862.7L150.5 862.7L151.0 862.7L151.5 862.7L152.0 862.7L152.5 862.7L153.0 862.7L153.5 862.7L154.0 862.7L154.5 862.7L155.0 862.7L155.5 862.7L156.0 862.7L156.5 862.7L157.0 862.7L157.5 862.7L158.0 862.7L158.5 862.7L159.0 862.7L159.5 862.7L160.0 862.7L160.5 862.7L161.0 862.7L161.5 862.7L162.0 862.7L162.5 862.7L163.0 862.7L163.5 862.6L164.0 862.6L164.5 862.6L165.0 862.6L165.5 862.6L166.0 862.6L166.5 862.6L167.0 862.6L167.5 862.6L168.0 862.6L168.5 862.6L169.0 862.6L169.5 862.6L170.0 862.6L170.5 862.6L171.0 862.6L171.5 862.6L172.0 862.6L172.5 862.6L173.0 862.6L173.5 862.6L174.0 862.6L174.5 862.6L175.0 862.6L175.5 862.6L176.0 862.6L176.5 862.6L177.0 862.6L177.5 862.6L178.0 862.6L178.5 862.6L179.0 862.6L179.5 862.6L180.0 862.6L180.5 862.6L181.0 862.6L181.5 862.6L182.0 862.5L182.5 862.5L183.0 862.5L183.5 862.5L184.0 862.5L184.5 862.5L185.0 862.5L185.5 862.5L186.0 862.5L186.5 862.5L187.0 862.5L187.5 862.5L188.0 862.5L188.5 862.5L189.0 862.5L189.5 862.5L190.0 862.5L190.5 862.5L191.0 862.5L191.5 862.5L192.0 862.5L192.5 862.5L193.0 862.5L193.5 862.5L194.0 862.5L194.5 862.5L195.0 862.5L195.5 862.5L196.0 862.5L196.5 862.5L197.0 862.5L197.5 862.5L198.0 862.4L198.5 862.4L199.0 862.4L199.5 862.4L200.0 862.4L200.5 862.4L201.0 862.4L201.5 862.4L202.0 862.4L202.5 862.4L203.0 862.4L203.5 862.4L204.0 862.4L204.5 862.4L205.0 862.4L205.5 862.4L206.0 862.4L206.5 862.4L207.0 862.4L207.5 862.4L208.0 862.4L208.5 862.4L209.0 862.4L209.5 862.3L210.0 862.3L210.5 862.3L211.0 862.3L211.5 862.3L212.0 862.3L212.5 862.3L213.0 862.3L213.5 862.3L214.0 862.3L214.5 862.3L215.0 862.3L215.5 862.3L216.0 862.3L216.5 862.3L217.0 862.3L217.5 862.2L218.0 862.2L218.5 862.2L219.0 862.2L219.5 862.2L220.0 862.2L220.5 862.2L221.0 862.2L221.5 862.2L222.0 862.2L222.5 862.2L223.0 862.2L223.5 862.2L224.0 862.1L224.5 862.1L225.0 862.1L225.5 862.1L226.0 862.1L226.5 862.1L227.0 862.1L227.5 862.1L228.0 862.1L228.5 862.1L229.0 862.0L229.5 862.0L230.0 862.0L230.5 862.0L231.0 862.0L231.5 862.0L232.0 862.0L232.5 862.0L233.0 862.0L233.5 861.9L234.0 861.9L234.5 861.9L235.0 861.9L235.5 861.9L236.0 861.8L236.5 861.8L237.0 861.8L237.5 861.8L238.0 861.7L238.5 861.7L239.0 861.7L239.5 861.6L240.0 861.6L240.5 861.6L241.0 861.5L241.5 861.5L242.0 861.4L242.5 861.4L243.0 861.4L243.5 861.3L244.0 861.3L244.5 861.2L245.0 861.2L245.5 861.1L246.0 861.1L246.5 861.0L247.0 861.0L247.5 860.9L248.0 860.9L248.5 860.8L249.0 860.8L249.5 860.7L250.0 860.6L250.5 860.6L251.0 860.5L251.5 860.5L252.0 860.4L252.5 860.3L253.0 860.3L253.5 860.2L254.0 860.1L254.5 860.0L255.0 859.9L255.5 859.8L256.0 859.7L256.5 859.5L257.0 859.4L257.5 859.3L258.0 859.1L258.5 859.0L259.0 858.8L259.5 858.7L260.0 858.5L260.5 858.3L261.0 858.1L261.5 857.9L262.0 857.8L262.5 857.6L263.0 857.3L263.5 857.1L264.0 856.9L264.5 856.7L265.0 856.5L265.5 856.2L266.0 856.0L266.5 855.8L267.0 855.5L267.5 855.3L268.0 855.0L268.5 854.7L269.0 854.4L269.5 854.0L270.0 853.7L270.5 853.3L271.0 852.9L271.5 852.5L272.0 852.0L272.5 851.5L273.0 851.0L273.5 850.5L274.0 849.9L274.5 849.4L275.0 848.8L275.5 848.2L276.0 847.5L276.5 846.9L277.0 846.2L277.5 845.5L278.0 844.8L278.5 844.0L279.0 843.2L279.5 842.3L280.0 841.3L280.5 840.2L281.0 839.1L281.5 837.9L282.0 836.6L282.5 835.3L283.0 833.9L283.5 832.5L284.0 831.0L284.5 829.5L285.0 827.9L285.5 826.2L286.0 824.3L286.5 822.3L287.0 820.0L287.5 817.7L288.0 815.2L288.5 812.6L289.0 810.0L289.5 807.2L290.0 804.5L290.5 801.6L291.0 798.8L291.5 796.0L292.0 793.2L292.5 790.4L293.0 787.5L293.5 784.5L294.0 781.4L294.5 778.1L295.0 774.5L295.5 770.8L296.0 766.6L296.5 761.9L297.0 756.7L297.5 751.2L298.0 745.6L298.5 740.0L299.0 734.6L299.5 729.5L300.0 724.7L300.5 720.2L301.0 715.9L301.5 711.5L302.0 706.9L302.5 702.0L303.0 696.8L303.5 691.0L304.0 684.4L304.5 675.6L305.0 665.0L305.5 654.4L306.0 645.2L306.5 638.6L307.0 633.1L307.5 628.4L308.0 623.8L308.5 619.3L309.0 614.3L309.5 609.3L310.0 604.3L310.5 599.3L311.0 594.4L311.5 589.3L312.0 584.1L312.5 579.9L313.0 576.7L313.5 574.3L314.0 573.0L314.5 572.0L315.0 571.3L315.5 571.0L316.0 571.1L316.5 571.4L317.0 571.9L317.5 572.6L318.0 573.5L318.5 575.1L319.0 577.9L319.5 581.4L320.0 586.1L320.5 591.4L321.0 596.4L321.5 601.6L322.0 606.9L322.5 612.1L323.0 617.3L323.5 622.4L324.0 627.4L324.5 632.4L325.0 637.4L325.5 642.3L326.0 647.2L326.5 652.0L327.0 656.8L327.5 661.6L328.0 666.4L328.5 671.2L329.0 676.0L329.5 680.9L330.0 685.8L330.5 690.8L331.0 696.0L331.5 701.2L332.0 706.4L332.5 711.6L333.0 716.8L333.5 721.8L334.0 726.7L334.5 731.5L335.0 736.2L335.5 740.8L336.0 745.4L336.5 749.8L337.0 754.0L337.5 757.8L338.0 761.4L338.5 764.6L339.0 767.7L339.5 770.6L340.0 773.3L340.5 776.0L341.0 778.7L341.5 781.3L342.0 784.0L342.5 786.6L343.0 789.2L343.5 791.7L344.0 794.1L344.5 796.5L345.0 798.9L345.5 801.2L346.0 803.4L346.5 805.6L347.0 807.9L347.5 810.1L348.0 812.3L348.5 814.4L349.0 816.4L349.5 818.3L350.0 820.0L350.5 821.6L351.0 822.9L351.5 824.2L352.0 825.5L352.5 826.7L353.0 827.9L353.5 829.0L354.0 830.0L354.5 831.0L355.0 831.9L355.5 832.7L356.0 833.5L356.5 834.2L357.0 834.8L357.5 835.4L358.0 835.9L358.5 836.4L359.0 836.9L359.5 837.4L360.0 837.9L360.5 838.3L361.0 838.7L361.5 839.1L362.0 839.5L362.5 839.9L363.0 840.2L363.5 840.6L364.0 840.9L364.5 841.2L365.0 841.4L365.5 841.7L366.0 841.9L366.5 842.1L367.0 842.4L367.5 842.6L368.0 842.8L368.5 843.0L369.0 843.2L369.5 843.3L370.0 843.5L370.5 843.7L371.0 843.9L371.5 844.0L372.0 844.2L372.5 844.3L373.0 844.5L373.5 844.6L374.0 844.7L374.5 844.8L375.0 844.9L375.5 845.0L376.0 845.1L376.5 845.2L377.0 845.2L377.5 845.3L378.0 845.3L378.5 845.4L379.0 845.5L379.5 845.5L380.0 845.6L380.5 845.6L381.0 845.7L381.5 845.7L382.0 845.8L382.5 845.8L383.0 845.9L383.5 845.9L384.0 845.9L384.5 846.0L385.0 846.0L385.5 846.0L386.0 846.1L386.5 846.1L387.0 846.1L387.5 846.2L388.0 846.2L388.5 846.2L389.0 846.2L389.5 846.3L390.0 846.3L390.5 846.3L391.0 846.3L391.5 846.3L392.0 846.3L392.5 846.3L393.0 846.3L393.5 846.3L394.0 846.3L394.5 846.3L395.0 846.3L395.5 846.3L396.0 846.3L396.5 846.3L397.0 846.3L397.5 846.3L398.0 846.3L398.5 846.3L399.0 846.3L399.5 846.3L400.0 846.3L400.5 846.3L401.0 846.3L401.5 846.3L402.0 846.3L402.5 846.3L403.0 846.3L403.5 846.3L404.0 846.3L404.5 846.3L405.0 846.3L405.5 846.3L406.0 846.3L406.5 846.3L407.0 846.3L407.5 846.3L408.0 846.3L408.5 846.3L409.0 846.3L409.5 846.3L410.0 846.3L410.5 846.3L411.0 846.3L411.5 846.3L412.0 846.3L412.5 846.3L413.0 846.3L413.5 846.3L414.0 846.3L414.5 846.3L415.0 846.3L415.5 846.3L416.0 846.3L416.5 846.3L417.0 846.3L417.5 846.3L418.0 846.3L418.5 846.3L419.0 846.3L419.5 846.3L420.0 846.3L420.5 846.3L421.0 846.3L421.5 846.3L422.0 846.3L422.5 846.3L423.0 846.3L423.5 846.3L424.0 846.3L424.5 846.3L425.0 846.3L425.5 846.3L426.0 846.3L426.5 846.3L427.0 846.3L427.5 846.3L428.0 846.3L428.5 846.3L429.0 846.3L429.5 846.3L430.0 846.3L430.5 846.3L431.0 846.3L431.5 846.3L432.0 846.3L432.5 846.3L433.0 846.3L433.5 846.3L434.0 846.3L434.5 846.3L435.0 846.3L435.5 846.3L436.0 846.3L436.5 846.3L437.0 846.3L437.5 846.3L438.0 846.3L438.5 846.3L439.0 846.3L439.5 846.3L440.0 846.3L440.5 846.3L441.0 846.3L441.5 846.3L442.0 846.3L442.5 846.3L443.0 846.3L443.5 846.3L444.0 846.3L444.5 846.3L445.0 846.3L445.5 846.3L446.0 846.3L446.5 846.3L447.0 846.3L447.5 846.3L448.0 846.3L448.5 846.3L449.0 846.3L449.5 846.3L450.0 846.3L450.5 846.3L451.0 846.3L451.5 846.3L452.0 846.3L452.5 846.3L453.0 846.3L453.5 846.3L454.0 846.3L454.5 846.3L455.0 846.3L455.5 846.3L456.0 846.3L456.5 846.3L457.0 846.3L457.5 846.3L458.0 846.3L458.5 846.3L459.0 846.3L459.5 846.3L460.0 846.3L460.5 846.3L461.0 846.3L461.5 846.3L462.0 846.3L462.5 846.3L463.0 846.3L463.5 846.3L464.0 846.3L464.5 846.3L465.0 846.3L465.5 846.3L466.0 846.3L466.5 846.3L467.0 846.3L467.5 846.3L468.0 846.3L468.5 846.3L469.0 846.3L469.5 846.3L470.0 846.3L470.5 846.3L471.0 846.3L471.5 846.3L472.0 846.3L472.5 846.3L473.0 846.3L473.5 846.3L474.0 846.3L474.5 846.3L475.0 846.3L475.5 846.3L476.0 846.3L476.5 846.3L477.0 846.3L477.5 846.3L478.0 846.3L478.5 846.3L479.0 846.3L479.5 846.3L480.0 846.3L480.5 846.3L481.0 846.3L481.5 846.3L482.0 846.3L482.5 846.3L483.0 846.3L483.5 846.3L484.0 846.3L484.5 846.3L485.0 846.3L485.5 846.3L486.0 846.3L486.5 846.3L487.0 846.3L487.5 846.3L488.0 846.3L488.5 846.3L489.0 846.3L489.5 846.3L490.0 846.3L490.5 846.3L491.0 846.3L491.5 846.3" fill="none" stroke="#d8181c" stroke-width="3.0" stroke-linejoin="round" stroke-linecap="round" opacity="1"/>
<path d="M110.0 862.5L110.5 862.5L111.0 862.5L111.5 862.5L112.0 862.5L112.5 862.5L113.0 862.5L113.5 862.5L114.0 862.5L114.5 862.5L115.0 862.5L115.5 862.5L116.0 862.5L116.5 862.5L117.0 862.5L117.5 862.5L118.0 862.5L118.5 862.5L119.0 862.5L119.5 862.5L120.0 862.5L120.5 862.5L121.0 862.5L121.5 862.5L122.0 862.5L122.5 862.5L123.0 862.5L123.5 862.5L124.0 862.5L124.5 862.5L125.0 862.5L125.5 862.5L126.0 862.5L126.5 862.5L127.0 862.5L127.5 862.5L128.0 862.4L128.5 862.4L129.0 862.4L129.5 862.4L130.0 862.4L130.5 862.4L131.0 862.4L131.5 862.4L132.0 862.4L132.5 862.4L133.0 862.4L133.5 862.4L134.0 862.4L134.5 862.4L135.0 862.4L135.5 862.4L136.0 862.4L136.5 862.4L137.0 862.4L137.5 862.4L138.0 862.4L138.5 862.4L139.0 862.4L139.5 862.4L140.0 862.4L140.5 862.4L141.0 862.4L141.5 862.4L142.0 862.4L142.5 862.4L143.0 862.3L143.5 862.3L144.0 862.3L144.5 862.3L145.0 862.3L145.5 862.3L146.0 862.3L146.5 862.3L147.0 862.3L147.5 862.3L148.0 862.3L148.5 862.3L149.0 862.3L149.5 862.3L150.0 862.3L150.5 862.3L151.0 862.3L151.5 862.3L152.0 862.3L152.5 862.3L153.0 862.3L153.5 862.3L154.0 862.3L154.5 862.2L155.0 862.2L155.5 862.2L156.0 862.2L156.5 862.2L157.0 862.2L157.5 862.2L158.0 862.2L158.5 862.2L159.0 862.2L159.5 862.2L160.0 862.2L160.5 862.2L161.0 862.2L161.5 862.2L162.0 862.2L162.5 862.2L163.0 862.2L163.5 862.2L164.0 862.2L164.5 862.2L165.0 862.2L165.5 862.1L166.0 862.1L166.5 862.1L167.0 862.1L167.5 862.1L168.0 862.1L168.5 862.1L169.0 862.1L169.5 862.1L170.0 862.1L170.5 862.1L171.0 862.1L171.5 862.1L172.0 862.1L172.5 862.1L173.0 862.1L173.5 862.1L174.0 862.1L174.5 862.0L175.0 862.0L175.5 862.0L176.0 862.0L176.5 862.0L177.0 862.0L177.5 862.0L178.0 862.0L178.5 862.0L179.0 862.0L179.5 862.0L180.0 862.0L180.5 862.0L181.0 861.9L181.5 861.9L182.0 861.9L182.5 861.9L183.0 861.9L183.5 861.9L184.0 861.9L184.5 861.9L185.0 861.9L185.5 861.9L186.0 861.9L186.5 861.8L187.0 861.8L187.5 861.8L188.0 861.8L188.5 861.8L189.0 861.8L189.5 861.8L190.0 861.8L190.5 861.8L191.0 861.7L191.5 861.7L192.0 861.7L192.5 861.7L193.0 861.7L193.5 861.7L194.0 861.7L194.5 861.7L195.0 861.6L195.5 861.6L196.0 861.6L196.5 861.6L197.0 861.6L197.5 861.6L198.0 861.6L198.5 861.5L199.0 861.5L199.5 861.5L200.0 861.5L200.5 861.5L201.0 861.5L201.5 861.4L202.0 861.4L202.5 861.4L203.0 861.4L203.5 861.3L204.0 861.3L204.5 861.3L205.0 861.2L205.5 861.2L206.0 861.1L206.5 861.1L207.0 861.0L207.5 861.0L208.0 860.9L208.5 860.9L209.0 860.8L209.5 860.8L210.0 860.7L210.5 860.7L211.0 860.6L211.5 860.5L212.0 860.5L212.5 860.4L213.0 860.3L213.5 860.3L214.0 860.2L214.5 860.1L215.0 860.1L215.5 860.0L216.0 859.9L216.5 859.8L217.0 859.8L217.5 859.7L218.0 859.6L218.5 859.5L219.0 859.4L219.5 859.4L220.0 859.3L220.5 859.2L221.0 859.1L221.5 859.0L222.0 858.9L222.5 858.8L223.0 858.8L223.5 858.7L224.0 858.6L224.5 858.5L225.0 858.4L225.5 858.3L226.0 858.2L226.5 858.1L227.0 858.1L227.5 858.0L228.0 857.9L228.5 857.8L229.0 857.7L229.5 857.6L230.0 857.5L230.5 857.4L231.0 857.3L231.5 857.2L232.0 857.2L232.5 857.1L233.0 857.0L233.5 856.9L234.0 856.7L234.5 856.6L235.0 856.5L235.5 856.4L236.0 856.3L236.5 856.2L237.0 856.1L237.5 855.9L238.0 855.8L238.5 855.7L239.0 855.6L239.5 855.4L240.0 855.3L240.5 855.2L241.0 855.0L241.5 854.9L242.0 854.8L242.5 854.6L243.0 854.5L243.5 854.4L244.0 854.2L244.5 854.1L245.0 854.0L245.5 853.8L246.0 853.7L246.5 853.6L247.0 853.4L247.5 853.3L248.0 853.1L248.5 853.0L249.0 852.9L249.5 852.7L250.0 852.6L250.5 852.5L251.0 852.4L251.5 852.2L252.0 852.1L252.5 852.0L253.0 851.9L253.5 851.7L254.0 851.6L254.5 851.5L255.0 851.4L255.5 851.3L256.0 851.1L256.5 851.0L257.0 850.9L257.5 850.8L258.0 850.7L258.5 850.6L259.0 850.5L259.5 850.3L260.0 850.2L260.5 850.1L261.0 850.0L261.5 849.9L262.0 849.8L262.5 849.7L263.0 849.5L263.5 849.4L264.0 849.3L264.5 849.2L265.0 849.1L265.5 848.9L266.0 848.8L266.5 848.7L267.0 848.6L267.5 848.4L268.0 848.3L268.5 848.2L269.0 848.0L269.5 847.9L270.0 847.7L270.5 847.6L271.0 847.5L271.5 847.3L272.0 847.2L272.5 847.0L273.0 846.8L273.5 846.7L274.0 846.5L274.5 846.3L275.0 846.1L275.5 846.0L276.0 845.8L276.5 845.6L277.0 845.4L277.5 845.2L278.0 845.0L278.5 844.8L279.0 844.6L279.5 844.4L280.0 844.1L280.5 843.9L281.0 843.7L281.5 843.5L282.0 843.2L282.5 843.0L283.0 842.8L283.5 842.5L284.0 842.3L284.5 842.1L285.0 841.8L285.5 841.6L286.0 841.3L286.5 841.1L287.0 840.8L287.5 840.6L288.0 840.3L288.5 840.1L289.0 839.8L289.5 839.6L290.0 839.3L290.5 839.1L291.0 838.8L291.5 838.6L292.0 838.3L292.5 838.1L293.0 837.8L293.5 837.6L294.0 837.3L294.5 837.1L295.0 836.8L295.5 836.6L296.0 836.3L296.5 836.1L297.0 835.8L297.5 835.6L298.0 835.3L298.5 835.1L299.0 834.9L299.5 834.6L300.0 834.4L300.5 834.2L301.0 833.9L301.5 833.7L302.0 833.4L302.5 833.2L303.0 832.9L303.5 832.7L304.0 832.4L304.5 832.2L305.0 831.9L305.5 831.6L306.0 831.4L306.5 831.1L307.0 830.8L307.5 830.6L308.0 830.3L308.5 830.0L309.0 829.8L309.5 829.5L310.0 829.2L310.5 829.0L311.0 828.7L311.5 828.5L312.0 828.2L312.5 828.0L313.0 827.7L313.5 827.5L314.0 827.3L314.5 827.1L315.0 826.8L315.5 826.6L316.0 826.4L316.5 826.2L317.0 826.0L317.5 825.8L318.0 825.6L318.5 825.5L319.0 825.3L319.5 825.1L320.0 825.0L320.5 824.9L321.0 824.7L321.5 824.6L322.0 824.4L322.5 824.3L323.0 824.1L323.5 824.0L324.0 823.8L324.5 823.7L325.0 823.6L325.5 823.4L326.0 823.3L326.5 823.1L327.0 823.0L327.5 822.9L328.0 822.8L328.5 822.6L329.0 822.5L329.5 822.4L330.0 822.3L330.5 822.2L331.0 822.1L331.5 822.0L332.0 822.0L332.5 821.9L333.0 821.8L333.5 821.8L334.0 821.7L334.5 821.7L335.0 821.6L335.5 821.6L336.0 821.6L336.5 821.6L337.0 821.6L337.5 821.6L338.0 821.6L338.5 821.7L339.0 821.7L339.5 821.7L340.0 821.8L340.5 821.8L341.0 821.9L341.5 821.9L342.0 822.0L342.5 822.1L343.0 822.1L343.5 822.2L344.0 822.3L344.5 822.4L345.0 822.5L345.5 822.6L346.0 822.7L346.5 822.8L347.0 822.9L347.5 823.0L348.0 823.1L348.5 823.2L349.0 823.4L349.5 823.5L350.0 823.6L350.5 823.7L351.0 823.8L351.5 824.0L352.0 824.1L352.5 824.2L353.0 824.4L353.5 824.5L354.0 824.6L354.5 824.8L355.0 824.9L355.5 825.0L356.0 825.2L356.5 825.3L357.0 825.4L357.5 825.6L358.0 825.7L358.5 825.8L359.0 826.0L359.5 826.1L360.0 826.2L360.5 826.3L361.0 826.5L361.5 826.6L362.0 826.7L362.5 826.8L363.0 827.0L363.5 827.1L364.0 827.2L364.5 827.4L365.0 827.5L365.5 827.6L366.0 827.8L366.5 827.9L367.0 828.1L367.5 828.2L368.0 828.4L368.5 828.5L369.0 828.7L369.5 828.9L370.0 829.0L370.5 829.2L371.0 829.3L371.5 829.5L372.0 829.7L372.5 829.8L373.0 830.0L373.5 830.1L374.0 830.3L374.5 830.5L375.0 830.6L375.5 830.8L376.0 830.9L376.5 831.1L377.0 831.3L377.5 831.4L378.0 831.6L378.5 831.7L379.0 831.9L379.5 832.1L380.0 832.2L380.5 832.4L381.0 832.5L381.5 832.7L382.0 832.8L382.5 832.9L383.0 833.1L383.5 833.2L384.0 833.4L384.5 833.5L385.0 833.7L385.5 833.8L386.0 834.0L386.5 834.2L387.0 834.3L387.5 834.5L388.0 834.6L388.5 834.8L389.0 834.9L389.5 835.1L390.0 835.2L390.5 835.4L391.0 835.6L391.5 835.7L392.0 835.9L392.5 836.0L393.0 836.2L393.5 836.3L394.0 836.5L394.5 836.6L395.0 836.8L395.5 836.9L396.0 837.1L396.5 837.2L397.0 837.4L397.5 837.5L398.0 837.7L398.5 837.8L399.0 837.9L399.5 838.1L400.0 838.2L400.5 838.3L401.0 838.5L401.5 838.6L402.0 838.7L402.5 838.9L403.0 839.0L403.5 839.1L404.0 839.2L404.5 839.3L405.0 839.4L405.5 839.5L406.0 839.6L406.5 839.7L407.0 839.8L407.5 839.9L408.0 840.0L408.5 840.1L409.0 840.2L409.5 840.3L410.0 840.3L410.5 840.4L411.0 840.5L411.5 840.6L412.0 840.6L412.5 840.7L413.0 840.8L413.5 840.9L414.0 841.0L414.5 841.0L415.0 841.1L415.5 841.2L416.0 841.2L416.5 841.3L417.0 841.4L417.5 841.4L418.0 841.5L418.5 841.6L419.0 841.6L419.5 841.7L420.0 841.8L420.5 841.8L421.0 841.9L421.5 842.0L422.0 842.0L422.5 842.1L423.0 842.1L423.5 842.2L424.0 842.2L424.5 842.3L425.0 842.4L425.5 842.4L426.0 842.5L426.5 842.5L427.0 842.6L427.5 842.6L428.0 842.7L428.5 842.7L429.0 842.8L429.5 842.8L430.0 842.9L430.5 842.9L431.0 842.9L431.5 843.0L432.0 843.0L432.5 843.1L433.0 843.1L433.5 843.2L434.0 843.2L434.5 843.2L435.0 843.3L435.5 843.3L436.0 843.4L436.5 843.4L437.0 843.4L437.5 843.5L438.0 843.5L438.5 843.5L439.0 843.6L439.5 843.6L440.0 843.6L440.5 843.7L441.0 843.7L441.5 843.7L442.0 843.8L442.5 843.8L443.0 843.8L443.5 843.8L444.0 843.9L444.5 843.9L445.0 843.9L445.5 844.0L446.0 844.0L446.5 844.0L447.0 844.0L447.5 844.1L448.0 844.1L448.5 844.1L449.0 844.1L449.5 844.2L450.0 844.2L450.5 844.2L451.0 844.3L451.5 844.3L452.0 844.3L452.5 844.3L453.0 844.4L453.5 844.4L454.0 844.4L454.5 844.4L455.0 844.5L455.5 844.5L456.0 844.5L456.5 844.6L457.0 844.6L457.5 844.6L458.0 844.6L458.5 844.7L459.0 844.7L459.5 844.7L460.0 844.7L460.5 844.8L461.0 844.8L461.5 844.8L462.0 844.8L462.5 844.9L463.0 844.9L463.5 844.9L464.0 844.9L464.5 845.0L465.0 845.0L465.5 845.0L466.0 845.0L466.5 845.1L467.0 845.1L467.5 845.1L468.0 845.1L468.5 845.2L469.0 845.2L469.5 845.2L470.0 845.2L470.5 845.3L471.0 845.3L471.5 845.3L472.0 845.3L472.5 845.4L473.0 845.4L473.5 845.4L474.0 845.4L474.5 845.5L475.0 845.5L475.5 845.5L476.0 845.5L476.5 845.6L477.0 845.6L477.5 845.6L478.0 845.6L478.5 845.6L479.0 845.7L479.5 845.7L480.0 845.7L480.5 845.7L481.0 845.8L481.5 845.8L482.0 845.8L482.5 845.8L483.0 845.8L483.5 845.9L484.0 845.9L484.5 845.9L485.0 845.9L485.5 845.9L486.0 846.0L486.5 846.0L487.0 846.0L487.5 846.0L488.0 846.0L488.5 846.1L489.0 846.1L489.5 846.1L490.0 846.1L490.5 846.1L491.0 846.2L491.5 846.2" fill="none" stroke="#2a14e6" stroke-width="3.0" stroke-linejoin="round" stroke-linecap="round" opacity="1"/>
<path d="M108.8 864.6L109.8 863.8L110.8 861.3L111.8 862.1L112.8 864.4L113.8 864.9L114.8 864.8L115.8 864.7L116.8 864.1L117.8 863.6L118.8 862.8L119.8 861.6L120.8 861.8L121.8 862.6L122.8 863.1L123.8 864.4L124.8 865.4L125.8 865.1L126.8 864.3L127.8 863.7L128.8 862.9L129.8 862.9L130.8 862.9L131.8 862.9L132.8 862.9L133.8 862.9L134.8 862.9L135.8 862.9L136.8 862.9L137.8 862.9L138.8 862.9L139.8 862.9L140.8 862.9L141.8 862.9L142.8 862.9L143.8 862.9L144.8 862.9L145.8 862.9L146.8 862.9L147.8 862.9L148.8 862.9L149.8 862.9L150.8 862.9L151.8 862.9L152.8 862.9L153.8 862.9L154.8 862.9L155.8 862.9L156.8 862.9L157.8 862.9L158.8 862.9L159.8 862.9L160.8 862.9L161.8 862.9L162.8 862.9L163.8 862.9L164.8 862.9L165.8 862.9L166.8 862.9L167.8 862.9L168.8 862.9L169.8 862.9L170.8 862.9L171.8 862.9L172.8 862.9L173.8 862.9L174.8 862.9L175.8 862.9L176.8 862.9L177.8 862.9L178.8 862.9L179.8 862.9L180.8 862.9L181.8 862.9L182.8 862.9L183.8 862.9L184.8 862.9L185.8 862.9L186.8 862.9L187.8 862.9L188.8 862.9L189.8 862.9L190.8 862.9L191.8 862.9L192.8 862.9L193.8 862.9L194.8 862.9L195.8 862.9L196.8 862.9L197.8 862.9L198.8 862.9L199.8 862.9L200.8 862.9L201.8 862.9L202.8 862.9L203.8 862.9L204.8 862.9L205.8 862.9L206.8 862.9L207.8 862.9L208.8 862.9L209.8 862.9L210.8 862.9L211.8 862.9L212.8 862.9L213.8 862.9L214.8 862.9L215.8 862.9L216.8 862.9L217.8 862.9L218.8 862.9L219.8 862.9L220.8 862.9L221.8 862.9L222.8 862.9L223.8 862.9L224.8 862.9L225.8 862.9L226.8 862.9L227.8 862.9L228.8 862.9L229.8 862.9L230.8 862.9L231.8 862.9L232.8 862.9L233.8 862.9L234.8 862.9L235.8 862.9L236.8 862.9L237.8 862.9L238.8 862.9L239.8 862.9L240.8 862.9L241.8 862.9L242.8 862.9L243.8 862.9L244.8 862.9L245.8 862.9L246.8 862.9L247.8 862.9L248.8 862.9L249.8 862.9L250.8 862.9L251.8 862.9L252.8 862.9L253.8 862.9L254.8 862.9L255.8 862.9L256.8 862.9L257.8 862.8L258.8 862.8L259.8 862.8L260.8 862.8L261.8 862.8L262.8 862.8L263.8 862.8L264.8 862.8L265.8 862.8L266.8 862.8L267.8 862.8L268.8 862.7L269.8 862.7L270.8 862.7L271.8 862.7L272.8 862.7L273.8 862.6L274.8 862.6L275.8 862.6L276.8 862.6L277.8 862.5L278.8 862.5L279.8 862.4L280.8 862.4L281.8 862.3L282.8 862.3L283.8 862.2L284.8 862.1L285.8 862.1L286.8 862.0L287.8 861.9L288.8 861.8L289.8 861.7L290.8 861.6L291.8 861.4L292.8 861.3L293.8 861.1L294.8 861.0L295.8 860.8L296.8 860.6L297.8 860.4L298.8 860.2L299.8 859.9L300.8 859.7L301.8 859.4L302.8 859.1L303.8 858.9L304.8 858.5L305.8 858.2L306.8 857.9L307.8 857.5L308.8 857.2L309.8 856.8L310.8 856.4L311.8 856.0L312.8 855.6L313.8 855.2L314.8 854.8L315.8 854.4L316.8 854.0L317.8 853.6L318.8 853.3L319.8 852.9L320.8 852.5L321.8 852.2L322.8 851.8L323.8 851.5L324.8 851.2L325.8 850.9L326.8 850.6L327.8 850.3L328.8 850.1L329.8 849.8L330.8 849.6L331.8 849.4L332.8 849.2L333.8 849.0L334.8 848.9L335.8 848.7L336.8 848.6L337.8 848.5L338.8 848.3L339.8 848.2L340.8 848.1L341.8 848.0L342.8 847.9L343.8 847.9L344.8 847.8L345.8 847.7L346.8 847.7L347.8 847.6L348.8 847.6L349.8 847.5L350.8 847.5L351.8 847.4L352.8 847.4L353.8 847.4L354.8 847.3L355.8 847.3L356.8 847.3L357.8 847.3L358.8 847.2L359.8 847.2L360.8 847.2L361.8 847.2L362.8 847.2L363.8 847.2L364.8 847.1L365.8 847.1L366.8 847.1L367.8 847.1L368.8 847.1L369.8 847.1L370.8 847.1L371.8 847.1L372.8 847.1L373.8 847.0L374.8 847.0L375.8 847.0L376.8 847.0L377.8 847.0L378.8 847.0L379.8 847.0L380.8 847.0L381.8 847.0L382.8 847.0L383.8 847.0L384.8 847.0L385.8 847.0L386.8 847.0L387.8 847.0L388.8 847.0L389.8 846.9L390.8 846.9L391.8 846.9L392.8 846.9L393.8 846.9L394.8 846.9L395.8 846.9L396.8 846.9L397.8 846.9L398.8 846.9L399.8 846.9L400.8 846.9L401.8 846.9L402.8 846.9L403.8 846.9L404.8 846.9L405.8 846.9L406.8 846.9L407.8 846.9L408.8 846.9L409.8 846.9L410.8 846.9L411.8 846.9L412.8 846.8L413.8 846.8L414.8 846.8L415.8 846.8L416.8 846.8L417.8 846.8L418.8 846.8L419.8 846.8L420.8 846.8L421.8 846.8L422.8 846.8L423.8 846.8L424.8 846.8L425.8 846.8L426.8 846.8L427.8 846.8L428.8 846.8L429.8 846.8L430.8 846.8L431.8 846.8L432.8 846.8L433.8 846.8L434.8 846.8L435.8 846.8L436.8 846.8L437.8 846.7L438.8 846.7L439.8 846.7L440.8 846.7L441.8 846.7L442.8 846.7L443.8 846.7L444.8 846.7L445.8 846.7L446.8 846.7L447.8 846.7L448.8 846.7L449.8 846.7L450.8 846.7L451.8 846.7L452.8 846.7L453.8 846.7L454.8 846.7L455.8 846.7L456.8 846.7L457.8 846.7L458.8 846.7L459.8 846.7L460.8 846.7L461.8 846.7L462.8 846.6L463.8 846.6L464.8 846.6L465.8 846.6L466.8 846.6L467.8 846.6L468.8 846.6L469.8 846.6L470.8 846.6L471.8 846.6L472.8 846.6L473.8 846.6L474.8 846.6L475.8 846.6L476.8 846.6L477.8 846.6L478.8 846.6L479.8 846.6L480.8 846.6L481.8 846.6L482.8 846.6L483.8 846.6L484.8 846.6L485.8 846.6L486.8 846.6L487.8 846.5L488.8 846.5L489.8 846.5L490.8 846.5L491.8 846.5L492.8 845.9L493.8 848.9L494.8 850.6L495.8 848.3L496.8 845.6L497.8 846.4L498.8 846.9L499.8 845.4L500.8 845.2L501.8 845.4L502.8 844.9L503.8 845.5L504.8 846.5L505.8 846.0L506.8 846.3L507.8 846.9L508.8 844.9L509.8 843.8L510.8 846.2L511.8 847.6L512.8 846.6L513.8 845.0L514.8 843.7L515.8 844.3L516.8 846.4L517.8 846.9L518.8 845.5L519.8 843.8L520.8 842.7L521.8 842.4L522.8 843.1L523.8 843.9L524.8 843.4L525.8 843.5L526.8 844.6L527.8 844.7L528.8 844.2L529.8 844.0L530.8 842.9L531.8 841.7L532.8 842.4L533.8 842.9L534.8 843.1L535.8 843.3L536.8 843.7L537.8 844.3L538.8 844.0L539.8 843.7L540.8 843.8L541.8 843.8L542.8 844.3L543.8 844.8L544.8 844.1L545.8 842.7L546.8 842.1L547.8 842.5L548.8 843.2" fill="none" stroke="#e424ec" stroke-width="3.0" stroke-linejoin="round" stroke-linecap="round" opacity="1"/>
<path d="M731.4 854.7L732.4 853.3L733.4 851.8L734.4 850.3L735.4 849.0L736.4 847.5L737.4 846.1L738.4 845.0L739.4 844.2L740.4 843.4L741.4 842.8L742.4 842.3L743.4 841.7L744.4 841.2L745.4 841.0L746.4 841.3L747.4 841.5L748.4 841.8L749.4 842.1L750.4 841.5L751.4 841.0L752.4 840.5L753.4 840.0L754.4 839.9L755.4 840.3L756.4 840.7L757.4 841.1L758.4 841.4L759.4 841.0L760.4 840.6L761.4 840.2L762.4 839.7L763.4 839.5L764.4 839.5L765.4 839.5L766.4 839.5L767.4 839.5L768.4 839.8L769.4 840.1L770.4 840.5L771.4 840.8L772.4 840.8L773.4 840.4L774.4 840.1L775.4 839.7L776.4 839.3L777.4 839.1L778.4 838.9L779.4 838.7L780.4 838.4L781.4 838.0L782.4 837.3L783.4 836.7L784.4 836.0L785.4 835.3L786.4 835.2L787.4 835.1L788.4 834.9L789.4 834.8L790.4 834.1L791.4 832.8L792.4 831.5L793.4 830.3L794.4 829.1L795.4 829.6L796.4 830.2L797.4 830.8L798.4 831.4L799.4 831.4L800.4 830.8L801.4 830.2L802.4 829.6L803.4 829.0L804.4 828.7L805.4 828.4L806.4 828.1L807.4 827.7L808.4 827.7L809.4 828.0L810.4 828.2L811.4 828.5L812.4 828.8L813.4 829.2L814.4 829.7L815.4 830.2L816.4 830.6L817.4 830.5L818.4 829.7L819.4 828.8L820.4 828.0L821.4 827.2L822.4 827.8L823.4 828.4L824.4 829.0L825.4 829.6L826.4 829.6L827.4 828.9L828.4 828.3L829.4 827.6L830.4 827.0L831.4 827.3L832.4 827.6L833.4 827.8L834.4 828.1L835.4 827.9L836.4 827.2L837.4 826.2L838.4 825.1L839.4 823.9L840.4 822.6L841.4 821.3L842.4 820.0L843.4 818.7L844.4 817.4L845.4 815.9L846.4 814.6L847.4 813.3L848.4 812.1L849.4 811.5L850.4 811.0L851.4 810.5L852.4 810.0L853.4 809.2L854.4 808.1L855.4 807.1L856.4 806.1L857.4 805.0L858.4 805.0L859.4 804.9" fill="none" stroke="#7a7189" stroke-width="3.3" stroke-linejoin="round" stroke-linecap="round" opacity="1"/>
<path d="M1089.0 684.3L1090.0 683.8L1091.0 683.3L1092.0 682.9L1093.0 682.6L1094.0 682.3L1095.0 681.8L1096.0 681.3L1097.0 680.9L1098.0 680.4L1099.0 680.2L1100.0 680.8L1101.0 681.5L1102.0 682.3L1103.0 683.2L1104.0 684.1L1105.0 685.0L1106.0 685.9L1107.0 686.8L1108.0 687.6L1109.0 688.3L1110.0 688.0L1111.0 687.7L1112.0 687.3L1113.0 687.0L1114.0 686.7L1115.0 687.9L1116.0 689.1L1117.0 690.3L1118.0 691.4L1119.0 692.6L1120.0 693.0L1121.0 693.3L1122.0 693.6L1123.0 693.9L1124.0 694.1L1125.0 693.2L1126.0 692.2L1127.0 691.2L1128.0 690.2L1129.0 689.2L1130.0 690.1L1131.0 690.9L1132.0 691.7L1133.0 692.6L1134.0 693.4L1135.0 692.6L1136.0 691.8L1137.0 691.0L1138.0 690.2L1139.0 689.4L1140.0 689.8L1141.0 690.1L1142.0 690.5L1143.0 690.9L1144.0 691.3L1145.0 690.4L1146.0 689.6L1147.0 688.7L1148.0 687.8L1149.0 686.9L1150.0 687.5L1151.0 688.0L1152.0 688.6L1153.0 689.2L1154.0 689.7L1155.0 690.0L1156.0 690.2L1157.0 690.5L1158.0 690.8L1159.0 691.1L1160.0 691.0L1161.0 690.9L1162.0 690.8L1163.0 690.7L1164.0 690.6L1165.0 690.2L1166.0 689.7L1167.0 689.3L1168.0 688.9L1169.0 688.5L1170.0 688.0L1171.0 687.5L1172.0 687.1L1173.0 686.6L1174.0 686.1L1175.0 686.3L1176.0 686.4L1177.0 686.5L1178.0 686.7L1179.0 686.8L1180.0 686.6L1181.0 686.5L1182.0 686.3L1183.0 686.1L1184.0 685.9L1185.0 686.7L1186.0 687.4L1187.0 688.1L1188.0 688.8L1189.0 689.5L1190.0 688.5L1191.0 687.5L1192.0 686.4L1193.0 685.3L1194.0 684.1L1195.0 683.8L1196.0 683.5L1197.0 683.2L1198.0 682.8L1199.0 682.4L1200.0 681.6L1201.0 680.7L1202.0 679.9" fill="none" stroke="#7a7189" stroke-width="3.3" stroke-linejoin="round" stroke-linecap="round" opacity="1"/>
<path d="M859.6 804.2L860.6 804.0L861.6 803.8L862.6 803.5L863.6 803.3L864.6 803.1L865.6 802.8L866.6 802.6L867.6 802.4L868.6 802.2L869.6 801.9L870.6 801.7L871.6 801.5L872.6 801.2L873.6 801.0L874.6 800.8L875.6 800.5L876.6 800.3L877.6 800.1L878.6 799.8L879.6 799.6L880.6 799.4L881.6 799.1L882.6 798.9L883.6 798.7L884.6 798.4L885.6 798.2L886.6 798.0L887.6 797.7L888.6 797.5L889.6 797.3L890.6 797.0L891.6 796.8L892.6 796.5L893.6 796.3L894.6 796.0L895.6 795.8L896.6 795.5L897.6 795.3L898.6 795.0L899.6 794.7L900.6 794.4L901.6 794.2L902.6 793.9L903.6 793.6L904.6 793.3L905.6 793.0L906.6 792.7L907.6 792.4L908.6 792.1L909.6 791.8L910.6 791.4L911.6 791.1L912.6 790.7L913.6 790.3L914.6 789.9L915.6 789.4L916.6 788.9L917.6 788.3L918.6 787.7L919.6 787.1L920.6 786.3L921.6 785.6L922.6 784.8L923.6 784.0L924.6 783.1L925.6 782.2L926.6 781.3L927.6 780.4L928.6 779.4L929.6 778.5L930.6 777.5L931.6 776.5L932.6 775.5L933.6 774.3L934.6 773.2L935.6 771.9L936.6 770.7L937.6 769.4L938.6 768.1L939.6 766.9L940.6 765.6L941.6 764.4L942.6 763.2L943.6 762.0L944.6 760.8L945.6 759.5L946.6 758.3L947.6 757.1L948.6 755.9L949.6 754.7L950.6 753.6L951.6 752.4L952.6 751.4L953.6 750.3L954.6 749.3L955.6 748.3L956.6 747.3L957.6 746.4L958.6 745.4L959.6 744.4L960.6 743.4L961.6 742.4L962.6 741.4L963.6 740.3L964.6 739.2L965.6 738.1L966.6 737.0L967.6 735.9L968.6 734.8L969.6 733.7L970.6 732.5L971.6 731.4L972.6 730.3L973.6 729.2L974.6 728.1L975.6 726.9L976.6 725.8L977.6 724.6L978.6 723.5L979.6 722.4L980.6 721.3L981.6 720.3L982.6 719.3L983.6 718.3L984.6 717.4L985.6 716.5L986.6 715.6L987.6 714.7L988.6 713.8L989.6 713.0L990.6 712.1L991.6 711.3L992.6 710.5L993.6 709.7L994.6 708.9L995.6 708.2L996.6 707.5L997.6 706.8L998.6 706.1L999.6 705.5L1000.6 704.8L1001.6 704.2L1002.6 703.6L1003.6 703.0L1004.6 702.3L1005.6 701.7L1006.6 701.1L1007.6 700.5L1008.6 700.0L1009.6 699.4L1010.6 698.8L1011.6 698.3L1012.6 697.8L1013.6 697.3L1014.6 696.8L1015.6 696.3L1016.6 695.9L1017.6 695.4L1018.6 695.0L1019.6 694.6L1020.6 694.3L1021.6 693.9L1022.6 693.6L1023.6 693.3L1024.6 693.1L1025.6 692.8L1026.6 692.5L1027.6 692.3L1028.6 692.0L1029.6 691.8L1030.6 691.5L1031.6 691.3L1032.6 691.1L1033.6 690.9L1034.6 690.6L1035.6 690.4L1036.6 690.2L1037.6 690.0L1038.6 689.8L1039.6 689.7L1040.6 689.5L1041.6 689.3L1042.6 689.1L1043.6 689.0L1044.6 688.8L1045.6 688.6L1046.6 688.5L1047.6 688.3L1048.6 688.2L1049.6 688.0L1050.6 687.9L1051.6 687.8L1052.6 687.6L1053.6 687.5L1054.6 687.4L1055.6 687.3L1056.6 687.2L1057.6 687.0L1058.6 686.9L1059.6 686.8L1060.6 686.7L1061.6 686.6L1062.6 686.5L1063.6 686.4L1064.6 686.3L1065.6 686.2L1066.6 686.1L1067.6 686.0L1068.6 685.9L1069.6 685.8L1070.6 685.7L1071.6 685.6L1072.6 685.5L1073.6 685.4L1074.6 685.3L1075.6 685.2L1076.6 685.1L1077.6 685.1L1078.6 685.0L1079.6 684.9L1080.6 684.9L1081.6 684.8L1082.6 684.7L1083.6 684.7L1084.6 684.6L1085.6 684.6L1086.6 684.5L1087.6 684.5L1088.6 684.4L1089.6 684.4" fill="none" stroke="#847c8c" stroke-width="2.8" stroke-linejoin="round" stroke-linecap="round" opacity="1"/>
<path d="M944.6 758.9L945.6 757.6L946.6 756.3L947.6 755.0L948.6 753.6L949.6 752.3L950.6 751.1L951.6 749.8L952.6 748.6L953.6 747.3L954.6 746.2L955.6 745.0L956.6 743.8L957.6 742.6L958.6 741.4L959.6 740.2L960.6 738.9L961.6 737.6L962.6 736.3L963.6 734.9L964.6 733.5L965.6 732.0L966.6 730.5L967.6 729.0L968.6 727.4L969.6 725.9L970.6 724.2L971.6 722.6L972.6 721.0L973.6 719.3L974.6 717.6L975.6 715.8L976.6 714.1L977.6 712.2L978.6 710.4L979.6 708.6L980.6 706.8L981.6 704.9L982.6 703.2L983.6 701.4L984.6 699.6L985.6 697.8L986.6 696.1L987.6 694.3L988.6 692.5L989.6 690.7L990.6 688.9L991.6 687.1L992.6 685.3L993.6 683.6L994.6 681.8L995.6 680.1L996.6 678.4L997.6 676.7L998.6 675.0L999.6 673.4L1000.6 671.8L1001.6 670.3L1002.6 668.7L1003.6 667.2L1004.6 665.8L1005.6 664.3L1006.6 662.9L1007.6 661.6L1008.6 660.3L1009.6 659.1L1010.6 657.9L1011.6 656.9L1012.6 655.8L1013.6 654.9L1014.6 654.1L1015.6 653.3L1016.6 652.6L1017.6 652.0L1018.6 651.5L1019.6 651.1L1020.6 650.8L1021.6 650.6L1022.6 650.5L1023.6 650.5L1024.6 650.6L1025.6 650.7L1026.6 650.9L1027.6 651.2L1028.6 651.5L1029.6 651.9L1030.6 652.4L1031.6 652.9L1032.6 653.4L1033.6 654.0L1034.6 654.6L1035.6 655.3L1036.6 656.0L1037.6 656.7L1038.6 657.5L1039.6 658.3L1040.6 659.0L1041.6 659.9L1042.6 660.7L1043.6 661.5L1044.6 662.3L1045.6 663.1L1046.6 664.0L1047.6 664.8L1048.6 665.6L1049.6 666.4L1050.6 667.2L1051.6 667.9L1052.6 668.7L1053.6 669.4L1054.6 670.2L1055.6 670.9L1056.6 671.6L1057.6 672.2L1058.6 672.9L1059.6 673.5L1060.6 674.1L1061.6 674.6L1062.6 675.2L1063.6 675.7L1064.6 676.2L1065.6 676.6L1066.6 677.1L1067.6 677.5L1068.6 677.9L1069.6 678.2L1070.6 678.6L1071.6 678.9L1072.6 679.2L1073.6 679.5L1074.6 679.8L1075.6 680.0L1076.6 680.3L1077.6 680.5L1078.6 680.7L1079.6 680.9L1080.6 681.0L1081.6 681.2L1082.6 681.3L1083.6 681.5L1084.6 681.6L1085.6 681.7L1086.6 681.8L1087.6 681.9L1088.6 682.0L1089.6 682.1" fill="none" stroke="#e424ec" stroke-width="2.6" stroke-linejoin="round" stroke-linecap="round" opacity="1"/>
<path d="M859.6 803.8L860.6 803.5L861.6 803.3L862.6 803.1L863.6 802.8L864.6 802.6L865.6 802.4L866.6 802.1L867.6 801.9L868.6 801.7L869.6 801.4L870.6 801.2L871.6 800.9L872.6 800.7L873.6 800.4L874.6 800.2L875.6 800.0L876.6 799.7L877.6 799.5L878.6 799.2L879.6 799.0L880.6 798.7L881.6 798.5L882.6 798.2L883.6 798.0L884.6 797.7L885.6 797.5L886.6 797.2L887.6 797.0L888.6 796.7L889.6 796.5L890.6 796.2L891.6 795.9L892.6 795.7L893.6 795.4L894.6 795.1L895.6 794.8L896.6 794.5L897.6 794.2L898.6 793.9L899.6 793.6L900.6 793.2L901.6 792.9L902.6 792.6L903.6 792.2L904.6 791.8L905.6 791.4L906.6 791.0L907.6 790.6L908.6 790.2L909.6 789.7L910.6 789.1L911.6 788.6L912.6 787.9L913.6 787.3L914.6 786.5L915.6 785.7L916.6 784.8L917.6 783.8L918.6 782.7L919.6 781.5L920.6 780.1L921.6 778.6L922.6 777.1L923.6 775.3L924.6 773.5L925.6 771.5L926.6 769.4L927.6 767.2L928.6 764.8L929.6 762.2L930.6 759.6L931.6 756.7L932.6 753.6L933.6 750.3L934.6 746.7L935.6 743.0L936.6 739.0L937.6 734.8L938.6 730.4L939.6 725.9L940.6 721.2L941.6 716.3L942.6 711.3L943.6 706.0L944.6 700.7L945.6 695.1L946.6 689.4L947.6 683.6L948.6 677.7L949.6 671.8L950.6 665.8L951.6 659.7L952.6 653.7L953.6 647.8L954.6 641.9L955.6 636.0L956.6 630.3L957.6 624.7L958.6 619.2L959.6 614.0L960.6 608.9L961.6 604.0L962.6 599.4L963.6 595.1L964.6 591.0L965.6 587.3L966.6 584.0L967.6 581.1L968.6 578.5L969.6 576.4L970.6 574.8L971.6 573.5L972.6 572.8L973.6 572.4L974.6 572.5L975.6 573.0L976.6 573.9L977.6 575.2L978.6 576.8L979.6 578.9L980.6 581.2L981.6 583.9L982.6 586.9L983.6 590.2L984.6 593.6L985.6 597.3L986.6 601.1L987.6 605.0L988.6 609.0L989.6 613.1L990.6 617.2L991.6 621.3L992.6 625.3L993.6 629.4L994.6 633.3L995.6 637.2L996.6 641.0L997.6 644.7L998.6 648.3L999.6 651.7L1000.6 655.0L1001.6 658.1L1002.6 661.0L1003.6 663.8L1004.6 666.3L1005.6 668.7L1006.6 670.9L1007.6 673.0L1008.6 674.9L1009.6 676.6L1010.6 678.1L1011.6 679.5L1012.6 680.8L1013.6 681.9L1014.6 682.9L1015.6 683.8L1016.6 684.6L1017.6 685.3L1018.6 686.0L1019.6 686.5L1020.6 687.0L1021.6 687.4L1022.6 687.7L1023.6 688.0L1024.6 688.3L1025.6 688.5L1026.6 688.7L1027.6 688.8L1028.6 688.8L1029.6 688.9L1030.6 688.9L1031.6 688.9L1032.6 688.9L1033.6 688.8L1034.6 688.8L1035.6 688.7L1036.6 688.6L1037.6 688.5L1038.6 688.4L1039.6 688.3L1040.6 688.2L1041.6 688.1L1042.6 688.0L1043.6 687.9L1044.6 687.7L1045.6 687.6L1046.6 687.5L1047.6 687.4L1048.6 687.3L1049.6 687.2L1050.6 687.1L1051.6 686.9L1052.6 686.8L1053.6 686.7L1054.6 686.6L1055.6 686.5L1056.6 686.4L1057.6 686.3L1058.6 686.2L1059.6 686.1L1060.6 686.0L1061.6 685.9L1062.6 685.8L1063.6 685.8L1064.6 685.7L1065.6 685.6L1066.6 685.5L1067.6 685.4L1068.6 685.3L1069.6 685.2L1070.6 685.1L1071.6 685.0L1072.6 685.0L1073.6 684.9L1074.6 684.8L1075.6 684.7L1076.6 684.7L1077.6 684.6L1078.6 684.5L1079.6 684.5L1080.6 684.4L1081.6 684.3L1082.6 684.3L1083.6 684.2L1084.6 684.2L1085.6 684.2L1086.6 684.1L1087.6 684.1L1088.6 684.1L1089.6 684.0" fill="none" stroke="#1f7420" stroke-width="2.6" stroke-linejoin="round" stroke-linecap="round" opacity="1"/>
<path d="M872.6 799.3L873.6 799.0L874.6 798.7L875.6 798.4L876.6 798.1L877.6 797.7L878.6 797.4L879.6 797.0L880.6 796.6L881.6 796.2L882.6 795.8L883.6 795.4L884.6 794.9L885.6 794.4L886.6 793.9L887.6 793.3L888.6 792.7L889.6 792.0L890.6 791.2L891.6 790.4L892.6 789.4L893.6 788.3L894.6 787.1L895.6 785.8L896.6 784.2L897.6 782.5L898.6 780.6L899.6 778.6L900.6 776.2L901.6 773.7L902.6 771.0L903.6 768.0L904.6 764.9L905.6 761.5L906.6 758.0L907.6 754.2L908.6 750.4L909.6 746.4L910.6 742.4L911.6 738.5L912.6 734.5L913.6 730.8L914.6 727.2L915.6 724.0L916.6 721.1L917.6 718.7L918.6 716.8L919.6 715.5L920.6 714.8L921.6 714.8L922.6 715.3L923.6 716.4L924.6 717.9L925.6 719.9L926.6 722.1L927.6 724.6L928.6 727.2L929.6 729.8L930.6 732.5L931.6 735.1L932.6 737.6L933.6 739.9L934.6 742.0L935.6 743.8L936.6 745.4L937.6 746.8L938.6 747.9L939.6 748.9L940.6 749.6L941.6 750.2L942.6 750.6L943.6 750.8L944.6 750.8L945.6 750.7L946.6 750.4L947.6 750.0L948.6 749.5L949.6 749.0L950.6 748.4L951.6 747.7L952.6 747.0L953.6 746.3L954.6 745.6L955.6 744.8L956.6 744.1L957.6 743.3L958.6 742.5L959.6 741.7L960.6 740.9L961.6 740.0L962.6 739.1L963.6 738.1L964.6 737.1L965.6 736.1L966.6 735.1L967.6 734.0" fill="none" stroke="#7a22e8" stroke-width="2.6" stroke-linejoin="round" stroke-linecap="round" opacity="1"/>
<path d="M890.6 795.1L891.6 794.8L892.6 794.5L893.6 794.1L894.6 793.8L895.6 793.4L896.6 793.1L897.6 792.7L898.6 792.3L899.6 791.9L900.6 791.5L901.6 791.0L902.6 790.6L903.6 790.1L904.6 789.6L905.6 789.1L906.6 788.6L907.6 788.0L908.6 787.4L909.6 786.7L910.6 786.0L911.6 785.2L912.6 784.2L913.6 783.1L914.6 781.8L915.6 780.4L916.6 778.6L917.6 776.4L918.6 773.8L919.6 770.7L920.6 766.9L921.6 762.5L922.6 757.3L923.6 751.2L924.6 744.2L925.6 736.2L926.6 727.3L927.6 717.4L928.6 706.6L929.6 695.1L930.6 683.1L931.6 670.9L932.6 658.7L933.6 646.9L934.6 636.0L935.6 626.5L936.6 619.0L937.6 613.9L938.6 611.6L939.6 612.0L940.6 615.2L941.6 620.8L942.6 628.2L943.6 637.0L944.6 646.6L945.6 656.6L946.6 666.6L947.6 676.3L948.6 685.5L949.6 693.9L950.6 701.5L951.6 708.2L952.6 714.0L953.6 718.9L954.6 722.9L955.6 726.2L956.6 728.7L957.6 730.6L958.6 732.0L959.6 732.9L960.6 733.4L961.6 733.7L962.6 733.6L963.6 733.3L964.6 732.9L965.6 732.3L966.6 731.7L967.6 731.0L968.6 730.2L969.6 729.3L970.6 728.5L971.6 727.6L972.6 726.7L973.6 725.8L974.6 724.8L975.6 723.9L976.6 722.9L977.6 721.9L978.6 720.8L979.6 719.9L980.6 718.9L981.6 718.0L982.6 717.1L983.6 716.2L984.6 715.4L985.6 714.5L986.6 713.7" fill="none" stroke="#2a14e6" stroke-width="2.6" stroke-linejoin="round" stroke-linecap="round" opacity="1"/>
<path d="M931.6 775.2L932.6 773.8L933.6 772.3L934.6 770.7L935.6 768.9L936.6 766.9L937.6 764.8L938.6 762.6L939.6 760.2L940.6 757.8L941.6 755.2L942.6 752.6L943.6 749.9L944.6 747.2L945.6 744.5L946.6 741.9L947.6 739.5L948.6 737.3L949.6 735.4L950.6 733.8L951.6 732.6L952.6 731.8L953.6 731.4L954.6 731.3L955.6 731.4L956.6 731.8L957.6 732.2L958.6 732.7L959.6 733.2L960.6 733.7L961.6 734.0L962.6 734.3L963.6 734.3L964.6 734.3L965.6 734.0L966.6 733.7L967.6 733.2L968.6 732.6L969.6 731.9L970.6 731.1" fill="none" stroke="#5a127a" stroke-width="2.6" stroke-linejoin="round" stroke-linecap="round" opacity="1"/>
<path d="M859.6 802.0L860.6 801.4L861.6 800.7L862.6 800.0L863.6 799.1L864.6 798.1L865.6 796.9L866.6 795.6L867.6 794.2L868.6 792.5L869.6 790.7L870.6 788.6L871.6 786.4L872.6 784.0L873.6 781.4L874.6 778.7L875.6 775.8L876.6 772.9L877.6 770.0L878.6 767.1L879.6 764.4L880.6 761.8L881.6 759.4L882.6 757.4L883.6 755.8L884.6 754.6L885.6 753.9L886.6 753.8L887.6 754.1L888.6 754.9L889.6 756.2L890.6 757.8L891.6 759.7L892.6 761.9L893.6 764.2L894.6 766.6L895.6 769.1L896.6 771.5L897.6 773.8L898.6 776.0L899.6 778.0L900.6 779.8L901.6 781.5L902.6 783.0L903.6 784.3L904.6 785.4L905.6 786.3L906.6 787.1L907.6 787.6L908.6 788.1L909.6 788.3L910.6 788.5L911.6 788.6L912.6 788.5L913.6 788.4L914.6 788.2" fill="none" stroke="#14106a" stroke-width="2.6" stroke-linejoin="round" stroke-linecap="round" opacity="1"/>
<path d="M859.6 802.4L860.6 800.1L861.6 798.4L862.6 796.7L863.6 794.6L864.6 792.7L865.6 791.1L866.6 789.0L867.6 786.1L868.6 782.8L869.6 779.9L870.6 777.6L871.6 775.6L872.6 773.1L873.6 769.9L874.6 767.5L875.6 765.3L876.6 762.6L877.6 761.1L878.6 759.6L879.6 756.7L880.6 754.3L881.6 753.3L882.6 752.7L883.6 750.7L884.6 748.3L885.6 748.1L886.6 748.8L887.6 748.9L888.6 748.3L889.6 747.0L890.6 746.4L891.6 747.3L892.6 748.1L893.6 749.0L894.6 750.0L895.6 750.1L896.6 750.6L897.6 751.4L898.6 751.4L899.6 751.1L900.6 751.4L901.6 751.7L902.6 750.5L903.6 748.6L904.6 747.0L905.6 743.9L906.6 740.5L907.6 738.3L908.6 735.0L909.6 730.0L910.6 724.7L911.6 718.2L912.6 711.8L913.6 705.9L914.6 700.1L915.6 696.0L916.6 693.4L917.6 690.2L918.6 686.1L919.6 681.9L920.6 678.4L921.6 675.6L922.6 672.3L923.6 667.5L924.6 663.5L925.6 660.8L926.6 656.7L927.6 651.2L928.6 643.0L929.6 630.2L930.6 614.8L931.6 600.6L932.6 589.1L933.6 578.3L934.6 568.4L935.6 560.6L936.6 553.1L937.6 546.1L938.6 542.8L939.6 543.7L940.6 545.9L941.6 547.9L942.6 549.9L943.6 554.7L944.6 561.5L945.6 566.5L946.6 569.6L947.6 573.7L948.6 579.0L949.6 583.3L950.6 587.5L951.6 591.2L952.6 592.7L953.6 592.3L954.6 591.7L955.6 591.2L956.6 591.3L957.6 591.2L958.6 589.8L959.6 587.9L960.6 586.6L961.6 584.5L962.6 582.0L963.6 581.2L964.6 580.3L965.6 578.2L966.6 575.9L967.6 572.8L968.6 569.3L969.6 566.9L970.6 565.7L971.6 563.9L972.6 561.8L973.6 560.1L974.6 560.0L975.6 561.5L976.6 562.8L977.6 564.1L978.6 565.5L979.6 566.4L980.6 566.2L981.6 566.9L982.6 569.9L983.6 572.2L984.6 574.5L985.6 576.9L986.6 578.2L987.6 579.7L988.6 582.0L989.6 584.8L990.6 588.2L991.6 592.5L992.6 597.2L993.6 601.6L994.6 605.7L995.6 610.5L996.6 614.8L997.6 617.9L998.6 620.2L999.6 622.0L1000.6 623.9L1001.6 625.3L1002.6 625.4L1003.6 625.9L1004.6 627.6L1005.6 629.7L1006.6 631.0L1007.6 631.7L1008.6 631.7L1009.6 631.0L1010.6 631.6L1011.6 633.0L1012.6 633.6L1013.6 634.4L1014.6 636.1L1015.6 637.6L1016.6 638.1L1017.6 638.6L1018.6 638.8L1019.6 638.2L1020.6 638.0L1021.6 639.7L1022.6 641.1L1023.6 640.9L1024.6 641.3L1025.6 643.1L1026.6 644.9L1027.6 644.5L1028.6 643.6L1029.6 643.4L1030.6 644.9L1031.6 646.9L1032.6 646.7L1033.6 646.8L1034.6 649.0L1035.6 651.1L1036.6 652.3L1037.6 652.9L1038.6 654.3L1039.6 656.0L1040.6 656.0L1041.6 655.8L1042.6 656.0L1043.6 656.5L1044.6 657.7L1045.6 659.4L1046.6 660.3L1047.6 660.2L1048.6 661.2L1049.6 663.7L1050.6 665.8L1051.6 666.5L1052.6 667.0L1053.6 668.1L1054.6 669.2L1055.6 670.1L1056.6 670.7L1057.6 670.7L1058.6 670.4L1059.6 671.3L1060.6 673.0L1061.6 673.3L1062.6 673.8L1063.6 674.6L1064.6 674.5L1065.6 675.5L1066.6 676.6L1067.6 676.9L1068.6 677.0L1069.6 677.3L1070.6 677.7L1071.6 678.7L1072.6 679.8L1073.6 680.8L1074.6 681.3L1075.6 680.9L1076.6 681.0L1077.6 681.9L1078.6 682.6L1079.6 682.8L1080.6 682.8L1081.6 682.9L1082.6 683.2L1083.6 683.0L1084.6 682.3L1085.6 682.6L1086.6 683.8L1087.6 684.5L1088.6 684.0L1089.6 683.7" fill="none" stroke="#d8181c" stroke-width="3.0" stroke-linejoin="round" stroke-linecap="round" opacity="1"/>
<line x1="288.4" y1="77.7" x2="288.4" y2="285.1" stroke="#4a4a4a" stroke-width="2.5" stroke-dasharray="7.4 7.6"/>
<line x1="341.8" y1="31.4" x2="341.8" y2="221" stroke="#4a4a4a" stroke-width="2.5" stroke-dasharray="7.4 7.6"/>
<line x1="406.5" y1="162.4" x2="406.5" y2="321.9" stroke="#4a4a4a" stroke-width="2.5" stroke-dasharray="7.4 7.6"/>
<line x1="923.3" y1="167" x2="923.3" y2="281" stroke="#4a4a4a" stroke-width="2.5" stroke-dasharray="7.4 7.6"/>
<line x1="946.5" y1="72" x2="946.5" y2="277" stroke="#4a4a4a" stroke-width="2.5" stroke-dasharray="7.4 7.6"/>
<line x1="970.1" y1="21.8" x2="970.1" y2="257" stroke="#4a4a4a" stroke-width="2.5" stroke-dasharray="7.4 7.6"/>
<line x1="315.5" y1="528.7" x2="315.5" y2="734.6" stroke="#4a4a4a" stroke-width="2.5" stroke-dasharray="7.4 7.6"/>
<line x1="328.6" y1="798.3" x2="328.6" y2="882.5" stroke="#4a4a4a" stroke-width="2.5" stroke-dasharray="7.4 7.6"/>
<line x1="939.2" y1="531.2" x2="939.2" y2="717.3" stroke="#4a4a4a" stroke-width="2.5" stroke-dasharray="7.4 7.6"/>
<line x1="972.2" y1="513.7" x2="972.2" y2="640" stroke="#4a4a4a" stroke-width="2.5" stroke-dasharray="7.4 7.6"/>
<line x1="1023" y1="597.5" x2="1023" y2="739.8" stroke="#4a4a4a" stroke-width="2.5" stroke-dasharray="7.4 7.6"/>
<line x1="953.3" y1="676.1" x2="953.3" y2="803.4" stroke="#4a4a4a" stroke-width="2.5" stroke-dasharray="7.4 7.6"/>
</g>
</svg></body></html>
